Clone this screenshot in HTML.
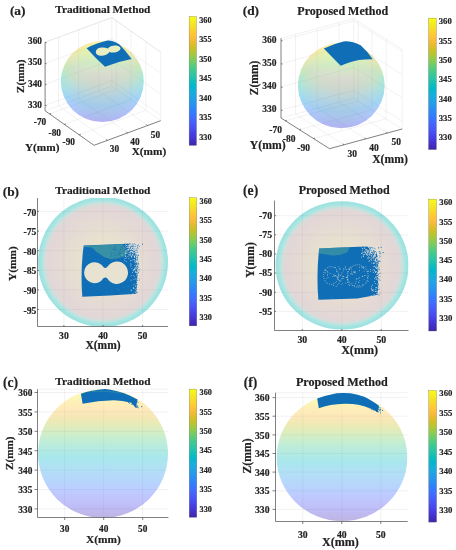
<!DOCTYPE html>
<html><head><meta charset="utf-8"><title>Figure</title>
<style>html,body{margin:0;padding:0;background:#fff}svg{display:block}text{font-family:"Liberation Serif",serif;font-weight:bold;fill:#222;stroke:#222;stroke-width:0.18px}</style>
</head><body>
<svg width="456" height="550" viewBox="0 0 456 550">
<defs><linearGradient id="cb" x1="0" y1="0" x2="0" y2="1"><stop offset="0.0000" stop-color="#f9fb15"/><stop offset="0.0417" stop-color="#f5eb23"/><stop offset="0.0833" stop-color="#f7db2b"/><stop offset="0.1250" stop-color="#feca33"/><stop offset="0.1667" stop-color="#fbbc3d"/><stop offset="0.2083" stop-color="#e5bb2d"/><stop offset="0.2500" stop-color="#c8c129"/><stop offset="0.2917" stop-color="#a6c83c"/><stop offset="0.3333" stop-color="#81cc59"/><stop offset="0.3750" stop-color="#5ccc76"/><stop offset="0.4167" stop-color="#3dc990"/><stop offset="0.4583" stop-color="#2cc4a6"/><stop offset="0.5000" stop-color="#12beb9"/><stop offset="0.5417" stop-color="#02b7cb"/><stop offset="0.5833" stop-color="#17aeda"/><stop offset="0.6250" stop-color="#21a3e3"/><stop offset="0.6667" stop-color="#2797eb"/><stop offset="0.7083" stop-color="#2d89f5"/><stop offset="0.7500" stop-color="#347afd"/><stop offset="0.7917" stop-color="#426afe"/><stop offset="0.8333" stop-color="#475bf9"/><stop offset="0.8750" stop-color="#484cef"/><stop offset="0.9167" stop-color="#463de0"/><stop offset="0.9583" stop-color="#4331c7"/><stop offset="1.0000" stop-color="#3e26a8"/></linearGradient><linearGradient id="sph" x1="0" y1="0" x2="0" y2="1"><stop offset="0.0000" stop-color="#f9fb15" stop-opacity="0.344"/><stop offset="0.0417" stop-color="#f5eb23" stop-opacity="0.344"/><stop offset="0.0833" stop-color="#f7db2b" stop-opacity="0.344"/><stop offset="0.1250" stop-color="#feca33" stop-opacity="0.344"/><stop offset="0.1667" stop-color="#fbbc3d" stop-opacity="0.344"/><stop offset="0.2083" stop-color="#e5bb2d" stop-opacity="0.344"/><stop offset="0.2500" stop-color="#c8c129" stop-opacity="0.344"/><stop offset="0.2917" stop-color="#a6c83c" stop-opacity="0.344"/><stop offset="0.3333" stop-color="#81cc59" stop-opacity="0.344"/><stop offset="0.3750" stop-color="#5ccc76" stop-opacity="0.344"/><stop offset="0.4167" stop-color="#3dc990" stop-opacity="0.344"/><stop offset="0.4583" stop-color="#2cc4a6" stop-opacity="0.344"/><stop offset="0.5000" stop-color="#12beb9" stop-opacity="0.344"/><stop offset="0.5417" stop-color="#02b7cb" stop-opacity="0.344"/><stop offset="0.5833" stop-color="#17aeda" stop-opacity="0.344"/><stop offset="0.6250" stop-color="#21a3e3" stop-opacity="0.344"/><stop offset="0.6667" stop-color="#2797eb" stop-opacity="0.344"/><stop offset="0.7083" stop-color="#2d89f5" stop-opacity="0.344"/><stop offset="0.7500" stop-color="#347afd" stop-opacity="0.344"/><stop offset="0.7917" stop-color="#426afe" stop-opacity="0.344"/><stop offset="0.8333" stop-color="#475bf9" stop-opacity="0.344"/><stop offset="0.8750" stop-color="#484cef" stop-opacity="0.344"/><stop offset="0.9167" stop-color="#463de0" stop-opacity="0.344"/><stop offset="0.9583" stop-color="#4331c7" stop-opacity="0.344"/><stop offset="1.0000" stop-color="#3e26a8" stop-opacity="0.344"/></linearGradient><linearGradient id="sph3" x1="0.42" y1="0" x2="0.58" y2="1"><stop offset="0.0000" stop-color="#fcf5b5"/><stop offset="0.0417" stop-color="#faf3b3"/><stop offset="0.0833" stop-color="#f2f5b3"/><stop offset="0.1250" stop-color="#e9f6ba"/><stop offset="0.1667" stop-color="#e1f4c1"/><stop offset="0.2083" stop-color="#ddf2c7"/><stop offset="0.2500" stop-color="#d9efcb"/><stop offset="0.2917" stop-color="#d7eccf"/><stop offset="0.3333" stop-color="#dbe9d3"/><stop offset="0.3750" stop-color="#dde5d6"/><stop offset="0.4167" stop-color="#dce1d7"/><stop offset="0.4583" stop-color="#d9e0d5"/><stop offset="0.5000" stop-color="#d5dfd6"/><stop offset="0.5417" stop-color="#d2ded9"/><stop offset="0.5833" stop-color="#ccddde"/><stop offset="0.6250" stop-color="#c5dbe2"/><stop offset="0.6667" stop-color="#bfd9e6"/><stop offset="0.7083" stop-color="#bbd7e9"/><stop offset="0.7500" stop-color="#b5d4ec"/><stop offset="0.7917" stop-color="#b3d1ed"/><stop offset="0.8333" stop-color="#b7ceee"/><stop offset="0.8750" stop-color="#b8cbef"/><stop offset="0.9167" stop-color="#bac6f1"/><stop offset="0.9583" stop-color="#bec1f2"/><stop offset="1.0000" stop-color="#bfbbf1"/></linearGradient><linearGradient id="linR" x1="0" y1="0" x2="0" y2="1"><stop offset="0.0000" stop-color="#ff0000"/><stop offset="0.0625" stop-color="#ef0000"/><stop offset="0.1250" stop-color="#df0000"/><stop offset="0.1875" stop-color="#cf0000"/><stop offset="0.2500" stop-color="#bf0000"/><stop offset="0.3125" stop-color="#af0000"/><stop offset="0.3750" stop-color="#9f0000"/><stop offset="0.4375" stop-color="#8f0000"/><stop offset="0.5000" stop-color="#800000"/><stop offset="0.5625" stop-color="#700000"/><stop offset="0.6250" stop-color="#600000"/><stop offset="0.6875" stop-color="#500000"/><stop offset="0.7500" stop-color="#400000"/><stop offset="0.8125" stop-color="#300000"/><stop offset="0.8750" stop-color="#200000"/><stop offset="0.9375" stop-color="#100000"/><stop offset="1.0000" stop-color="#000000"/></linearGradient><radialGradient id="radG" cx="0.5" cy="0.5" r="0.5"><stop offset="0.0000" stop-color="#00ff00"/><stop offset="0.0494" stop-color="#00ff00"/><stop offset="0.0975" stop-color="#00fe00"/><stop offset="0.1444" stop-color="#00fc00"/><stop offset="0.1900" stop-color="#00fa00"/><stop offset="0.2344" stop-color="#00f800"/><stop offset="0.2775" stop-color="#00f500"/><stop offset="0.3194" stop-color="#00f200"/><stop offset="0.3600" stop-color="#00ee00"/><stop offset="0.3994" stop-color="#00ea00"/><stop offset="0.4375" stop-color="#00e500"/><stop offset="0.4744" stop-color="#00e000"/><stop offset="0.5100" stop-color="#00db00"/><stop offset="0.5444" stop-color="#00d600"/><stop offset="0.5775" stop-color="#00d000"/><stop offset="0.6094" stop-color="#00ca00"/><stop offset="0.6400" stop-color="#00c400"/><stop offset="0.6694" stop-color="#00bd00"/><stop offset="0.6975" stop-color="#00b700"/><stop offset="0.7244" stop-color="#00b000"/><stop offset="0.7500" stop-color="#00a900"/><stop offset="0.7744" stop-color="#00a100"/><stop offset="0.7975" stop-color="#009a00"/><stop offset="0.8194" stop-color="#009200"/><stop offset="0.8400" stop-color="#008a00"/><stop offset="0.8594" stop-color="#008200"/><stop offset="0.8775" stop-color="#007a00"/><stop offset="0.8944" stop-color="#007200"/><stop offset="0.9100" stop-color="#006a00"/><stop offset="0.9244" stop-color="#006100"/><stop offset="0.9375" stop-color="#005900"/><stop offset="0.9494" stop-color="#005000"/><stop offset="0.9600" stop-color="#004700"/><stop offset="0.9694" stop-color="#003f00"/><stop offset="0.9775" stop-color="#003600"/><stop offset="0.9844" stop-color="#002d00"/><stop offset="0.9900" stop-color="#002400"/><stop offset="0.9944" stop-color="#001b00"/><stop offset="0.9975" stop-color="#001200"/><stop offset="0.9994" stop-color="#000900"/><stop offset="1.0000" stop-color="#000000"/></radialGradient><filter id="sphf" x="0" y="0" width="1" height="1" color-interpolation-filters="sRGB"><feColorMatrix in="SourceGraphic" type="matrix" values="0.8480 0.2650 0 0 0.0760 0.8480 0.2650 0 0 0.0760 0.8480 0.2650 0 0 0.0760 0 0 0 1 0" result="f"/><feComponentTransfer in="f" result="F"><feFuncR type="table" tableValues="0.242 0.258 0.270 0.278 0.281 0.280 0.271 0.248 0.202 0.180 0.171 0.149 0.130 0.102 0.047 0.005 0.070 0.155 0.204 0.265 0.359 0.466 0.579 0.687 0.785 0.872 0.946 0.996 0.994 0.978 0.961 0.963 0.977"/><feFuncG type="table" tableValues="0.150 0.181 0.214 0.254 0.298 0.341 0.385 0.431 0.479 0.523 0.564 0.603 0.639 0.673 0.702 0.726 0.746 0.762 0.780 0.794 0.802 0.801 0.792 0.777 0.757 0.739 0.729 0.747 0.792 0.841 0.891 0.938 0.984"/><feFuncB type="table" tableValues="0.660 0.750 0.834 0.896 0.939 0.970 0.989 0.998 0.991 0.971 0.941 0.913 0.892 0.867 0.826 0.778 0.726 0.671 0.611 0.541 0.463 0.376 0.291 0.214 0.162 0.163 0.216 0.234 0.201 0.175 0.153 0.126 0.081"/></feComponentTransfer><feColorMatrix in="SourceGraphic" type="matrix" values="0.8480 -0.2650 0 0 0.0760 0.8480 -0.2650 0 0 0.0760 0.8480 -0.2650 0 0 0.0760 0 0 0 1 0" result="b"/><feComponentTransfer in="b" result="B"><feFuncR type="table" tableValues="0.242 0.258 0.270 0.278 0.281 0.280 0.271 0.248 0.202 0.180 0.171 0.149 0.130 0.102 0.047 0.005 0.070 0.155 0.204 0.265 0.359 0.466 0.579 0.687 0.785 0.872 0.946 0.996 0.994 0.978 0.961 0.963 0.977"/><feFuncG type="table" tableValues="0.150 0.181 0.214 0.254 0.298 0.341 0.385 0.431 0.479 0.523 0.564 0.603 0.639 0.673 0.702 0.726 0.746 0.762 0.780 0.794 0.802 0.801 0.792 0.777 0.757 0.739 0.729 0.747 0.792 0.841 0.891 0.938 0.984"/><feFuncB type="table" tableValues="0.660 0.750 0.834 0.896 0.939 0.970 0.989 0.998 0.991 0.971 0.941 0.913 0.892 0.867 0.826 0.778 0.726 0.671 0.611 0.541 0.463 0.376 0.291 0.214 0.162 0.163 0.216 0.234 0.201 0.175 0.153 0.126 0.081"/></feComponentTransfer><feComposite in="F" in2="B" operator="arithmetic" k1="0" k2="0.2300" k3="0.1771" k4="0"/></filter><radialGradient id="top" cx="0.5" cy="0.5" r="0.5"><stop offset="0.000" stop-color="#c8bc82" stop-opacity="0.4"/><stop offset="0.300" stop-color="#c6b684" stop-opacity="0.4"/><stop offset="0.500" stop-color="#c0ac8c" stop-opacity="0.4"/><stop offset="0.700" stop-color="#bca096" stop-opacity="0.4"/><stop offset="0.850" stop-color="#b69b9b" stop-opacity="0.4"/><stop offset="0.870" stop-color="#b29e9e" stop-opacity="0.4"/><stop offset="0.895" stop-color="#91aca5" stop-opacity="0.4"/><stop offset="0.925" stop-color="#52bcb2" stop-opacity="0.4"/><stop offset="0.955" stop-color="#1ebcb6" stop-opacity="0.4"/><stop offset="1.000" stop-color="#00b6b2" stop-opacity="0.4"/></radialGradient><clipPath id="sca"><ellipse cx="102.3" cy="81.5" rx="41.5" ry="40.6"/></clipPath><clipPath id="scd"><ellipse cx="341.3" cy="85.5" rx="43.4" ry="42.7"/></clipPath><clipPath id="clipb"><rect x="37.5" y="198" width="130.5" height="128.5"/></clipPath><clipPath id="clipe"><rect x="274.5" y="200.5" width="134" height="130"/></clipPath><clipPath id="clipc"><rect x="37.5" y="389.2" width="130.9" height="128.3"/></clipPath><clipPath id="clipf"><rect x="275.5" y="392.7" width="132.2" height="128.8"/></clipPath></defs>
<rect width="456" height="550" fill="#fff"/>
<text x="9.9" y="14.7" font-size="13.4" text-anchor="start">(a)</text>
<text x="102.8" y="12.5" font-size="11.35" text-anchor="middle">Traditional Method</text>
<line x1="58.56" y1="105.84" x2="107.46" y2="140.34" stroke="#262626" stroke-width="0.5" stroke-opacity="0.12"/>
<line x1="58.56" y1="105.84" x2="58.56" y2="37.14" stroke="#262626" stroke-width="0.5" stroke-opacity="0.12"/>
<line x1="78.65" y1="98.43" x2="127.55" y2="132.93" stroke="#262626" stroke-width="0.5" stroke-opacity="0.12"/>
<line x1="78.65" y1="98.43" x2="78.65" y2="29.73" stroke="#262626" stroke-width="0.5" stroke-opacity="0.12"/>
<line x1="98.74" y1="91.02" x2="147.64" y2="125.52" stroke="#262626" stroke-width="0.5" stroke-opacity="0.12"/>
<line x1="98.74" y1="91.02" x2="98.74" y2="22.32" stroke="#262626" stroke-width="0.5" stroke-opacity="0.12"/>
<line x1="49.61" y1="113.98" x2="116.31" y2="89.38" stroke="#262626" stroke-width="0.5" stroke-opacity="0.12"/>
<line x1="116.31" y1="89.38" x2="116.31" y2="20.68" stroke="#262626" stroke-width="0.5" stroke-opacity="0.12"/>
<line x1="64.38" y1="124.4" x2="131.08" y2="99.8" stroke="#262626" stroke-width="0.5" stroke-opacity="0.12"/>
<line x1="131.08" y1="99.8" x2="131.08" y2="31.1" stroke="#262626" stroke-width="0.5" stroke-opacity="0.12"/>
<line x1="79.15" y1="134.82" x2="145.85" y2="110.22" stroke="#262626" stroke-width="0.5" stroke-opacity="0.12"/>
<line x1="145.85" y1="110.22" x2="145.85" y2="41.52" stroke="#262626" stroke-width="0.5" stroke-opacity="0.12"/>
<line x1="45.1" y1="105.34" x2="111.8" y2="80.74" stroke="#262626" stroke-width="0.5" stroke-opacity="0.12"/>
<line x1="111.8" y1="80.74" x2="160.7" y2="115.24" stroke="#262626" stroke-width="0.5" stroke-opacity="0.12"/>
<line x1="45.1" y1="84.33" x2="111.8" y2="59.73" stroke="#262626" stroke-width="0.5" stroke-opacity="0.12"/>
<line x1="111.8" y1="59.73" x2="160.7" y2="94.23" stroke="#262626" stroke-width="0.5" stroke-opacity="0.12"/>
<line x1="45.1" y1="63.32" x2="111.8" y2="38.72" stroke="#262626" stroke-width="0.5" stroke-opacity="0.12"/>
<line x1="111.8" y1="38.72" x2="160.7" y2="73.22" stroke="#262626" stroke-width="0.5" stroke-opacity="0.12"/>
<line x1="45.1" y1="42.31" x2="111.8" y2="17.71" stroke="#262626" stroke-width="0.5" stroke-opacity="0.12"/>
<line x1="111.8" y1="17.71" x2="160.7" y2="52.21" stroke="#262626" stroke-width="0.5" stroke-opacity="0.12"/>
<line x1="111.8" y1="86.2" x2="111.8" y2="17.5" stroke="#262626" stroke-width="0.5" stroke-opacity="0.12"/>
<line x1="45.1" y1="110.8" x2="111.8" y2="86.2" stroke="#262626" stroke-width="0.5" stroke-opacity="0.12"/>
<line x1="111.8" y1="86.2" x2="160.7" y2="120.7" stroke="#262626" stroke-width="0.5" stroke-opacity="0.12"/>
<line x1="45.1" y1="42.1" x2="111.8" y2="17.5" stroke="#262626" stroke-width="0.5" stroke-opacity="0.12"/>
<line x1="111.8" y1="17.5" x2="160.7" y2="52" stroke="#262626" stroke-width="0.5" stroke-opacity="0.12"/>
<line x1="160.7" y1="120.7" x2="160.7" y2="52" stroke="#262626" stroke-width="0.5" stroke-opacity="0.12"/>
<g clip-path="url(#sca)"><g filter="url(#sphf)"><ellipse cx="102.3" cy="81.5" rx="42.5" ry="41.6" fill="url(#linR)"/><ellipse cx="102.3" cy="81.5" rx="42.5" ry="41.6" fill="url(#radG)" style="mix-blend-mode:screen"/></g></g>
<path d="M86.6,48.2 Q96,43 107.6,40.5 Q113,40.2 119.5,44.5 Q126,51 131.6,59 Q118,61.5 105,66.8 Q95,57.5 86.6,48.2Z" fill="#0f6eb6"/>
<path d="M95.8,52 C96,47.5 103,46.5 108,48.6 C110,45 118,44.5 120.3,47.5 C122,51 114,53.8 109.5,52 C107,56.5 96,57.5 95.8,52Z" fill="#eaedc0"/>
<line x1="45.1" y1="110.8" x2="45.1" y2="42.1" stroke="#4a4a4a" stroke-width="0.7"/>
<line x1="45.1" y1="110.8" x2="94" y2="145.3" stroke="#4a4a4a" stroke-width="0.7"/>
<line x1="94" y1="145.3" x2="160.7" y2="120.7" stroke="#4a4a4a" stroke-width="0.7"/>
<line x1="45.1" y1="105.34" x2="46.6" y2="105.74" stroke="#4a4a4a" stroke-width="0.7"/>
<text x="42" y="107.51" font-size="9.3" text-anchor="end">330</text>
<line x1="45.1" y1="84.33" x2="46.6" y2="84.73" stroke="#4a4a4a" stroke-width="0.7"/>
<text x="42" y="86.5" font-size="9.3" text-anchor="end">340</text>
<line x1="45.1" y1="63.32" x2="46.6" y2="63.72" stroke="#4a4a4a" stroke-width="0.7"/>
<text x="42" y="65.49" font-size="9.3" text-anchor="end">350</text>
<line x1="45.1" y1="42.31" x2="46.6" y2="42.71" stroke="#4a4a4a" stroke-width="0.7"/>
<text x="42" y="44.48" font-size="9.3" text-anchor="end">360</text>
<line x1="49.61" y1="113.98" x2="51.11" y2="113.48" stroke="#4a4a4a" stroke-width="0.7"/>
<text x="40" y="125.27" font-size="9.3" text-anchor="middle">-70</text>
<line x1="64.38" y1="124.4" x2="65.88" y2="123.9" stroke="#4a4a4a" stroke-width="0.7"/>
<text x="54.8" y="135.57" font-size="9.3" text-anchor="middle">-80</text>
<line x1="79.15" y1="134.82" x2="80.65" y2="134.32" stroke="#4a4a4a" stroke-width="0.7"/>
<text x="68.8" y="145.47" font-size="9.3" text-anchor="middle">-90</text>
<line x1="107.46" y1="140.34" x2="106.26" y2="139.44" stroke="#4a4a4a" stroke-width="0.7"/>
<text x="114.5" y="152.37" font-size="9.3" text-anchor="middle">30</text>
<line x1="127.55" y1="132.93" x2="126.35" y2="132.03" stroke="#4a4a4a" stroke-width="0.7"/>
<text x="134.9" y="145.07" font-size="9.3" text-anchor="middle">40</text>
<line x1="147.64" y1="125.52" x2="146.44" y2="124.62" stroke="#4a4a4a" stroke-width="0.7"/>
<text x="155.4" y="137.57" font-size="9.3" text-anchor="middle">50</text>
<text x="24.2" y="76.2" font-size="11.2" text-anchor="middle" transform="rotate(-90 24.2 76.2)">Z(mm)</text>
<text x="42.2" y="151.2" font-size="11.3" text-anchor="middle">Y(mm)</text>
<text x="148.9" y="155.2" font-size="11.3" text-anchor="middle">X(mm)</text>
<rect x="189.1" y="16.5" width="7.4" height="128.9" fill="url(#cb)" stroke="#666" stroke-width="0.3"/>
<text x="199.2" y="22.71" font-size="8.2" text-anchor="start">360</text>
<text x="199.2" y="42.21" font-size="8.2" text-anchor="start">355</text>
<text x="199.2" y="61.71" font-size="8.2" text-anchor="start">350</text>
<text x="199.2" y="81.21" font-size="8.2" text-anchor="start">345</text>
<text x="199.2" y="100.71" font-size="8.2" text-anchor="start">340</text>
<text x="199.2" y="120.21" font-size="8.2" text-anchor="start">335</text>
<text x="199.2" y="139.71" font-size="8.2" text-anchor="start">330</text>
<text x="242.7" y="15" font-size="13.4" text-anchor="start">(d)</text>
<text x="342.7" y="14.5" font-size="12.0" text-anchor="middle">Proposed Method</text>
<line x1="295.54" y1="114.06" x2="344.04" y2="144.76" stroke="#262626" stroke-width="0.5" stroke-opacity="0.12"/>
<line x1="295.54" y1="114.06" x2="295.54" y2="34.26" stroke="#262626" stroke-width="0.5" stroke-opacity="0.12"/>
<line x1="317.24" y1="108.18" x2="365.74" y2="138.88" stroke="#262626" stroke-width="0.5" stroke-opacity="0.12"/>
<line x1="317.24" y1="108.18" x2="317.24" y2="28.38" stroke="#262626" stroke-width="0.5" stroke-opacity="0.12"/>
<line x1="338.94" y1="102.3" x2="387.44" y2="133" stroke="#262626" stroke-width="0.5" stroke-opacity="0.12"/>
<line x1="338.94" y1="102.3" x2="338.94" y2="22.5" stroke="#262626" stroke-width="0.5" stroke-opacity="0.12"/>
<line x1="285.36" y1="120.76" x2="358.06" y2="101.06" stroke="#262626" stroke-width="0.5" stroke-opacity="0.12"/>
<line x1="358.06" y1="101.06" x2="358.06" y2="21.26" stroke="#262626" stroke-width="0.5" stroke-opacity="0.12"/>
<line x1="299.42" y1="129.66" x2="372.12" y2="109.96" stroke="#262626" stroke-width="0.5" stroke-opacity="0.12"/>
<line x1="372.12" y1="109.96" x2="372.12" y2="30.16" stroke="#262626" stroke-width="0.5" stroke-opacity="0.12"/>
<line x1="313.47" y1="138.56" x2="386.17" y2="118.86" stroke="#262626" stroke-width="0.5" stroke-opacity="0.12"/>
<line x1="386.17" y1="118.86" x2="386.17" y2="39.06" stroke="#262626" stroke-width="0.5" stroke-opacity="0.12"/>
<line x1="281" y1="110.11" x2="353.7" y2="90.41" stroke="#262626" stroke-width="0.5" stroke-opacity="0.12"/>
<line x1="353.7" y1="90.41" x2="402.2" y2="121.11" stroke="#262626" stroke-width="0.5" stroke-opacity="0.12"/>
<line x1="281" y1="86.92" x2="353.7" y2="67.22" stroke="#262626" stroke-width="0.5" stroke-opacity="0.12"/>
<line x1="353.7" y1="67.22" x2="402.2" y2="97.92" stroke="#262626" stroke-width="0.5" stroke-opacity="0.12"/>
<line x1="281" y1="63.72" x2="353.7" y2="44.02" stroke="#262626" stroke-width="0.5" stroke-opacity="0.12"/>
<line x1="353.7" y1="44.02" x2="402.2" y2="74.72" stroke="#262626" stroke-width="0.5" stroke-opacity="0.12"/>
<line x1="281" y1="40.52" x2="353.7" y2="20.82" stroke="#262626" stroke-width="0.5" stroke-opacity="0.12"/>
<line x1="353.7" y1="20.82" x2="402.2" y2="51.52" stroke="#262626" stroke-width="0.5" stroke-opacity="0.12"/>
<line x1="353.7" y1="98.3" x2="353.7" y2="18.5" stroke="#262626" stroke-width="0.5" stroke-opacity="0.12"/>
<line x1="281" y1="118" x2="353.7" y2="98.3" stroke="#262626" stroke-width="0.5" stroke-opacity="0.12"/>
<line x1="353.7" y1="98.3" x2="402.2" y2="129" stroke="#262626" stroke-width="0.5" stroke-opacity="0.12"/>
<line x1="281" y1="38.2" x2="353.7" y2="18.5" stroke="#262626" stroke-width="0.5" stroke-opacity="0.12"/>
<line x1="353.7" y1="18.5" x2="402.2" y2="49.2" stroke="#262626" stroke-width="0.5" stroke-opacity="0.12"/>
<line x1="402.2" y1="129" x2="402.2" y2="49.2" stroke="#262626" stroke-width="0.5" stroke-opacity="0.12"/>
<g clip-path="url(#scd)"><g filter="url(#sphf)"><ellipse cx="341.3" cy="85.5" rx="44.4" ry="43.7" fill="url(#linR)"/><ellipse cx="341.3" cy="85.5" rx="44.4" ry="43.7" fill="url(#radG)" style="mix-blend-mode:screen"/></g></g>
<path d="M323.8,48.5 Q333,43.8 343.5,41.4 Q352,40.8 360.6,45.3 Q367.5,51.5 372.7,59.2 Q358,59 349.2,62.6 Q344,64.5 340.7,65.8 Q332,57 323.8,48.5Z" fill="#0f6eb6"/>
<line x1="281" y1="118" x2="281" y2="38.2" stroke="#4a4a4a" stroke-width="0.7"/>
<line x1="281" y1="118" x2="329.5" y2="148.7" stroke="#4a4a4a" stroke-width="0.7"/>
<line x1="329.5" y1="148.7" x2="402.2" y2="129" stroke="#4a4a4a" stroke-width="0.7"/>
<line x1="281" y1="110.11" x2="282.5" y2="110.51" stroke="#4a4a4a" stroke-width="0.7"/>
<text x="276.5" y="112.35" font-size="9.5" text-anchor="end">330</text>
<line x1="281" y1="86.92" x2="282.5" y2="87.32" stroke="#4a4a4a" stroke-width="0.7"/>
<text x="276.5" y="89.15" font-size="9.5" text-anchor="end">340</text>
<line x1="281" y1="63.72" x2="282.5" y2="64.12" stroke="#4a4a4a" stroke-width="0.7"/>
<text x="276.5" y="65.95" font-size="9.5" text-anchor="end">350</text>
<line x1="281" y1="40.52" x2="282.5" y2="40.92" stroke="#4a4a4a" stroke-width="0.7"/>
<text x="276.5" y="42.75" font-size="9.5" text-anchor="end">360</text>
<line x1="285.36" y1="120.76" x2="286.86" y2="120.26" stroke="#4a4a4a" stroke-width="0.7"/>
<text x="275.6" y="132.73" font-size="9.5" text-anchor="middle">-70</text>
<line x1="299.42" y1="129.66" x2="300.92" y2="129.16" stroke="#4a4a4a" stroke-width="0.7"/>
<text x="289.2" y="142.03" font-size="9.5" text-anchor="middle">-80</text>
<line x1="313.47" y1="138.56" x2="314.97" y2="138.06" stroke="#4a4a4a" stroke-width="0.7"/>
<text x="303.6" y="150.73" font-size="9.5" text-anchor="middle">-90</text>
<line x1="344.04" y1="144.76" x2="342.84" y2="143.86" stroke="#4a4a4a" stroke-width="0.7"/>
<text x="352.3" y="157.33" font-size="9.5" text-anchor="middle">30</text>
<line x1="365.74" y1="138.88" x2="364.54" y2="137.98" stroke="#4a4a4a" stroke-width="0.7"/>
<text x="374" y="151.13" font-size="9.5" text-anchor="middle">40</text>
<line x1="387.44" y1="133" x2="386.24" y2="132.1" stroke="#4a4a4a" stroke-width="0.7"/>
<text x="396.2" y="145.23" font-size="9.5" text-anchor="middle">50</text>
<text x="258" y="77.9" font-size="11.6" text-anchor="middle" transform="rotate(-90 258 77.9)">Z(mm)</text>
<text x="267.7" y="149.4" font-size="11.7" text-anchor="middle">Y(mm)</text>
<text x="390" y="162.5" font-size="11.7" text-anchor="middle">X(mm)</text>
<rect x="428.5" y="18.1" width="7.9" height="131.5" fill="url(#cb)" stroke="#666" stroke-width="0.3"/>
<text x="438.7" y="24.47" font-size="8.7" text-anchor="start">360</text>
<text x="438.7" y="43.77" font-size="8.7" text-anchor="start">355</text>
<text x="438.7" y="63.07" font-size="8.7" text-anchor="start">350</text>
<text x="438.7" y="82.37" font-size="8.7" text-anchor="start">345</text>
<text x="438.7" y="101.67" font-size="8.7" text-anchor="start">340</text>
<text x="438.7" y="120.97" font-size="8.7" text-anchor="start">335</text>
<text x="438.7" y="140.27" font-size="8.7" text-anchor="start">330</text>
<text x="2.7" y="196.3" font-size="13.4" text-anchor="start">(b)</text>
<text x="102.8" y="193.5" font-size="11.35" text-anchor="middle">Traditional Method</text>
<line x1="63.9" y1="198" x2="63.9" y2="326.5" stroke="#262626" stroke-width="0.5" stroke-opacity="0.12"/>
<line x1="103" y1="198" x2="103" y2="326.5" stroke="#262626" stroke-width="0.5" stroke-opacity="0.12"/>
<line x1="142.6" y1="198" x2="142.6" y2="326.5" stroke="#262626" stroke-width="0.5" stroke-opacity="0.12"/>
<line x1="37.5" y1="211.4" x2="168" y2="211.4" stroke="#262626" stroke-width="0.5" stroke-opacity="0.12"/>
<line x1="37.5" y1="231.1" x2="168" y2="231.1" stroke="#262626" stroke-width="0.5" stroke-opacity="0.12"/>
<line x1="37.5" y1="250.7" x2="168" y2="250.7" stroke="#262626" stroke-width="0.5" stroke-opacity="0.12"/>
<line x1="37.5" y1="270.3" x2="168" y2="270.3" stroke="#262626" stroke-width="0.5" stroke-opacity="0.12"/>
<line x1="37.5" y1="289.9" x2="168" y2="289.9" stroke="#262626" stroke-width="0.5" stroke-opacity="0.12"/>
<line x1="37.5" y1="309.5" x2="168" y2="309.5" stroke="#262626" stroke-width="0.5" stroke-opacity="0.12"/>
<g clip-path="url(#clipb)"><ellipse cx="103" cy="262" rx="65" ry="65" fill="url(#top)"/></g>
<path d="M83.7,245.5 L121,244.1 L136,243 L137.6,256 L137.3,275 L136.5,293.8 L110,295.6 L82.3,296.8 Q80.3,270 83.7,245.5Z" fill="#0f6eb6"/>
<path d="M84,245.6 L96.3,245.2 L122.6,244.2 L128.5,252.5 L123,257.2 L112.1,259.2 L104.5,257.2 L96.3,251.7 L92,247.6 L84,246.9Z" fill="#3f97a2" fill-opacity="0.85"/>
<path d="M114.0,252.1h0.8v0.8h-0.8zM120.3,253.1h0.8v0.8h-0.8zM110.2,255.9h0.8v0.8h-0.8zM114.0,257.9h0.8v0.8h-0.8zM124.2,251.2h0.8v0.8h-0.8zM112.6,253.3h0.8v0.8h-0.8zM118.9,254.6h0.8v0.8h-0.8zM111.1,254.9h0.8v0.8h-0.8zM115.1,245.4h0.8v0.8h-0.8zM118.0,254.3h0.8v0.8h-0.8zM122.1,257.0h0.8v0.8h-0.8zM123.6,250.8h0.8v0.8h-0.8zM124.9,246.3h0.8v0.8h-0.8zM113.7,257.6h0.8v0.8h-0.8zM120.7,248.9h0.8v0.8h-0.8zM116.6,249.6h0.8v0.8h-0.8zM119.9,256.8h0.8v0.8h-0.8zM125.8,256.1h0.8v0.8h-0.8zM121.4,247.1h0.8v0.8h-0.8zM126.4,256.8h0.8v0.8h-0.8zM122.1,247.7h0.8v0.8h-0.8zM119.8,248.7h0.8v0.8h-0.8zM124.5,257.9h0.8v0.8h-0.8zM123.6,250.3h0.8v0.8h-0.8zM115.0,255.0h0.8v0.8h-0.8zM110.8,253.0h0.8v0.8h-0.8zM122.2,249.3h0.8v0.8h-0.8zM126.7,251.6h0.8v0.8h-0.8zM115.3,246.0h0.8v0.8h-0.8zM110.5,247.6h0.8v0.8h-0.8zM120.4,247.0h0.8v0.8h-0.8zM124.8,249.1h0.8v0.8h-0.8zM125.2,249.9h0.8v0.8h-0.8zM118.8,253.4h0.8v0.8h-0.8zM119.5,253.1h0.8v0.8h-0.8zM118.6,250.6h0.8v0.8h-0.8zM114.0,248.9h0.8v0.8h-0.8zM118.9,252.1h0.8v0.8h-0.8zM117.1,252.5h0.8v0.8h-0.8zM120.5,253.2h0.8v0.8h-0.8zM120.7,251.1h0.8v0.8h-0.8zM116.0,254.2h0.8v0.8h-0.8zM110.4,245.8h0.8v0.8h-0.8zM126.4,248.3h0.8v0.8h-0.8zM120.1,249.2h0.8v0.8h-0.8zM115.3,249.8h0.8v0.8h-0.8zM115.1,249.9h0.8v0.8h-0.8zM110.5,252.4h0.8v0.8h-0.8zM115.3,247.9h0.8v0.8h-0.8zM114.1,247.4h0.8v0.8h-0.8zM121.9,246.3h0.8v0.8h-0.8zM115.7,255.8h0.8v0.8h-0.8zM124.5,247.2h0.8v0.8h-0.8zM121.1,256.5h0.8v0.8h-0.8zM113.8,246.6h0.8v0.8h-0.8zM113.2,255.5h0.8v0.8h-0.8zM113.1,248.6h0.8v0.8h-0.8zM120.9,255.5h0.8v0.8h-0.8zM112.2,248.8h0.8v0.8h-0.8zM114.6,249.5h0.8v0.8h-0.8z" fill="#0f6eb6" fill-opacity="0.8"/>
<path d="M106.2,266.1h0.7v0.7h-0.7zM92.3,246.2h0.7v0.7h-0.7zM130.6,294.4h0.7v0.7h-0.7zM134.4,291.4h0.7v0.7h-0.7zM123.5,287.0h0.7v0.7h-0.7zM111.5,260.2h0.7v0.7h-0.7zM96.1,249.3h0.7v0.7h-0.7zM99.2,285.7h0.7v0.7h-0.7zM131.9,280.0h0.7v0.7h-0.7zM131.5,290.1h0.7v0.7h-0.7zM84.7,282.5h0.7v0.7h-0.7zM99.9,278.5h0.7v0.7h-0.7zM105.9,292.0h0.7v0.7h-0.7zM102.1,258.4h0.7v0.7h-0.7zM109.3,284.3h0.7v0.7h-0.7zM94.5,272.2h0.7v0.7h-0.7zM93.1,284.8h0.7v0.7h-0.7zM126.7,286.4h0.7v0.7h-0.7zM117.3,288.3h0.7v0.7h-0.7zM98.4,259.2h0.7v0.7h-0.7zM106.4,269.2h0.7v0.7h-0.7zM84.1,248.7h0.7v0.7h-0.7zM90.6,249.4h0.7v0.7h-0.7zM129.3,250.2h0.7v0.7h-0.7zM100.7,261.4h0.7v0.7h-0.7zM118.3,274.7h0.7v0.7h-0.7zM94.1,262.1h0.7v0.7h-0.7zM113.4,281.1h0.7v0.7h-0.7zM88.2,254.7h0.7v0.7h-0.7zM116.0,284.3h0.7v0.7h-0.7zM126.5,276.5h0.7v0.7h-0.7zM103.7,270.3h0.7v0.7h-0.7zM106.3,280.0h0.7v0.7h-0.7zM97.0,272.3h0.7v0.7h-0.7zM87.8,266.8h0.7v0.7h-0.7zM130.6,291.9h0.7v0.7h-0.7zM131.6,284.8h0.7v0.7h-0.7zM108.6,252.0h0.7v0.7h-0.7zM119.1,289.5h0.7v0.7h-0.7zM119.4,282.0h0.7v0.7h-0.7zM89.5,274.8h0.7v0.7h-0.7zM91.6,283.9h0.7v0.7h-0.7zM88.9,250.9h0.7v0.7h-0.7zM93.5,247.2h0.7v0.7h-0.7zM90.4,287.4h0.7v0.7h-0.7zM128.3,292.7h0.7v0.7h-0.7zM126.3,247.8h0.7v0.7h-0.7zM111.1,281.0h0.7v0.7h-0.7zM123.7,291.8h0.7v0.7h-0.7zM101.2,273.6h0.7v0.7h-0.7zM96.8,254.8h0.7v0.7h-0.7zM116.6,282.9h0.7v0.7h-0.7zM103.5,265.4h0.7v0.7h-0.7zM106.2,250.1h0.7v0.7h-0.7zM135.6,266.2h0.7v0.7h-0.7zM92.5,279.9h0.7v0.7h-0.7zM119.7,271.3h0.7v0.7h-0.7zM118.1,290.0h0.7v0.7h-0.7zM89.1,282.7h0.7v0.7h-0.7zM111.4,267.7h0.7v0.7h-0.7zM93.9,259.1h0.7v0.7h-0.7zM115.0,261.4h0.7v0.7h-0.7zM120.6,292.7h0.7v0.7h-0.7zM121.4,266.2h0.7v0.7h-0.7zM115.0,259.1h0.7v0.7h-0.7zM85.2,269.5h0.7v0.7h-0.7zM93.1,263.7h0.7v0.7h-0.7zM125.0,253.0h0.7v0.7h-0.7zM109.4,275.4h0.7v0.7h-0.7zM128.2,286.3h0.7v0.7h-0.7z" fill="#3d9ab5" fill-opacity="0.8"/>
<path d="M128.6,247.0h0.8v0.8h-0.8zM135.8,247.2h0.8v0.8h-0.8zM136.0,248.6h0.8v0.8h-0.8zM133.5,244.2h0.8v0.8h-0.8zM135.4,248.2h0.8v0.8h-0.8zM130.7,255.7h0.8v0.8h-0.8zM136.4,260.2h0.8v0.8h-0.8zM128.5,248.6h0.8v0.8h-0.8zM134.2,249.4h0.8v0.8h-0.8zM125.0,244.4h0.8v0.8h-0.8zM134.4,256.7h0.8v0.8h-0.8zM131.1,256.7h0.8v0.8h-0.8zM129.7,251.5h0.8v0.8h-0.8zM137.7,259.9h0.8v0.8h-0.8zM134.7,254.7h0.8v0.8h-0.8zM126.7,247.1h0.8v0.8h-0.8zM136.1,256.0h0.8v0.8h-0.8zM134.0,250.3h0.8v0.8h-0.8zM134.5,245.3h0.8v0.8h-0.8zM127.5,245.8h0.8v0.8h-0.8zM127.5,256.2h0.8v0.8h-0.8zM127.5,250.2h0.8v0.8h-0.8zM137.9,246.8h0.8v0.8h-0.8zM126.4,244.9h0.8v0.8h-0.8zM131.6,249.2h0.8v0.8h-0.8zM123.2,243.2h0.8v0.8h-0.8zM137.0,260.8h0.8v0.8h-0.8zM128.9,247.8h0.8v0.8h-0.8zM133.1,242.9h0.8v0.8h-0.8zM134.0,255.7h0.8v0.8h-0.8zM137.7,244.5h0.8v0.8h-0.8zM131.9,253.9h0.8v0.8h-0.8zM135.3,244.7h0.8v0.8h-0.8zM131.2,251.2h0.8v0.8h-0.8zM133.5,244.0h0.8v0.8h-0.8zM131.2,246.7h0.8v0.8h-0.8zM138.4,249.0h0.8v0.8h-0.8zM133.8,248.1h0.8v0.8h-0.8zM125.5,250.5h0.8v0.8h-0.8zM129.9,245.7h0.8v0.8h-0.8zM128.0,249.1h0.8v0.8h-0.8zM130.1,244.3h0.8v0.8h-0.8zM135.0,247.3h0.8v0.8h-0.8zM135.4,253.3h0.8v0.8h-0.8zM138.4,253.2h0.8v0.8h-0.8zM125.0,253.1h0.8v0.8h-0.8zM132.5,255.1h0.8v0.8h-0.8zM138.3,248.0h0.8v0.8h-0.8zM136.9,244.0h0.8v0.8h-0.8zM135.4,246.4h0.8v0.8h-0.8zM124.9,246.4h0.8v0.8h-0.8zM130.0,251.1h0.8v0.8h-0.8zM138.1,247.8h0.8v0.8h-0.8zM128.2,254.5h0.8v0.8h-0.8zM138.2,249.6h0.8v0.8h-0.8zM130.8,245.4h0.8v0.8h-0.8zM131.1,244.2h0.8v0.8h-0.8zM132.2,251.0h0.8v0.8h-0.8zM138.1,256.0h0.8v0.8h-0.8zM136.4,246.4h0.8v0.8h-0.8zM135.9,253.0h0.8v0.8h-0.8zM135.9,256.9h0.8v0.8h-0.8zM136.9,250.2h0.8v0.8h-0.8zM132.8,249.1h0.8v0.8h-0.8zM132.4,254.4h0.8v0.8h-0.8zM136.6,255.9h0.8v0.8h-0.8zM138.4,251.9h0.8v0.8h-0.8zM133.8,248.2h0.8v0.8h-0.8zM133.4,245.9h0.8v0.8h-0.8zM136.1,252.6h0.8v0.8h-0.8zM137.8,246.1h0.8v0.8h-0.8zM129.4,246.4h0.8v0.8h-0.8zM136.7,244.4h0.8v0.8h-0.8zM133.9,246.9h0.8v0.8h-0.8zM136.4,245.2h0.8v0.8h-0.8zM124.9,256.2h0.8v0.8h-0.8zM138.0,244.5h0.8v0.8h-0.8zM132.3,248.9h0.8v0.8h-0.8zM131.1,248.2h0.8v0.8h-0.8zM131.5,251.1h0.8v0.8h-0.8zM138.5,245.8h0.8v0.8h-0.8zM138.5,244.9h0.8v0.8h-0.8zM136.8,243.4h0.8v0.8h-0.8zM137.8,246.2h0.8v0.8h-0.8zM129.4,254.8h0.8v0.8h-0.8zM131.1,243.1h0.8v0.8h-0.8zM133.7,247.5h0.8v0.8h-0.8zM136.3,253.5h0.8v0.8h-0.8zM137.2,247.5h0.8v0.8h-0.8zM137.6,248.7h0.8v0.8h-0.8zM138.1,248.0h0.8v0.8h-0.8zM136.4,247.3h0.8v0.8h-0.8zM136.9,253.4h0.8v0.8h-0.8zM131.0,247.4h0.8v0.8h-0.8zM134.2,251.9h0.8v0.8h-0.8zM134.7,247.6h0.8v0.8h-0.8zM136.2,261.6h0.8v0.8h-0.8zM125.2,255.4h0.8v0.8h-0.8zM134.2,256.1h0.8v0.8h-0.8zM132.9,248.7h0.8v0.8h-0.8zM128.0,246.7h0.8v0.8h-0.8zM130.4,253.7h0.8v0.8h-0.8zM138.5,245.3h0.8v0.8h-0.8zM132.7,259.0h0.8v0.8h-0.8zM124.2,259.7h0.8v0.8h-0.8zM132.0,252.0h0.8v0.8h-0.8zM135.3,249.5h0.8v0.8h-0.8zM138.2,244.7h0.8v0.8h-0.8zM135.8,243.1h0.8v0.8h-0.8zM134.1,257.3h0.8v0.8h-0.8zM135.2,242.7h0.8v0.8h-0.8zM136.4,254.7h0.8v0.8h-0.8zM138.0,242.5h0.8v0.8h-0.8zM127.7,246.8h0.8v0.8h-0.8zM135.4,246.3h0.8v0.8h-0.8zM129.3,245.5h0.8v0.8h-0.8zM135.2,249.4h0.8v0.8h-0.8zM127.9,243.0h0.8v0.8h-0.8zM137.7,247.7h0.8v0.8h-0.8zM133.2,250.0h0.8v0.8h-0.8zM133.8,259.7h0.8v0.8h-0.8zM137.9,254.4h0.8v0.8h-0.8zM128.6,244.4h0.8v0.8h-0.8zM134.6,243.9h0.8v0.8h-0.8zM137.2,257.8h0.8v0.8h-0.8zM136.6,245.2h0.8v0.8h-0.8zM126.9,249.0h0.8v0.8h-0.8zM136.2,251.1h0.8v0.8h-0.8zM135.4,253.7h0.8v0.8h-0.8zM138.1,245.5h0.8v0.8h-0.8zM135.9,256.3h0.8v0.8h-0.8zM130.5,248.5h0.8v0.8h-0.8zM136.9,249.7h0.8v0.8h-0.8zM128.2,245.0h0.8v0.8h-0.8zM136.6,244.1h0.8v0.8h-0.8zM135.8,253.7h0.8v0.8h-0.8zM138.4,244.6h0.8v0.8h-0.8zM134.2,247.2h0.8v0.8h-0.8zM131.3,255.9h0.8v0.8h-0.8zM135.6,251.5h0.8v0.8h-0.8zM132.1,245.5h0.8v0.8h-0.8zM129.3,246.1h0.8v0.8h-0.8zM135.2,249.3h0.8v0.8h-0.8zM129.3,254.2h0.8v0.8h-0.8zM137.4,245.1h0.8v0.8h-0.8zM136.2,250.9h0.8v0.8h-0.8zM125.4,251.6h0.8v0.8h-0.8zM125.9,257.5h0.8v0.8h-0.8zM137.4,247.1h0.8v0.8h-0.8zM137.2,261.3h0.8v0.8h-0.8zM129.4,251.7h0.8v0.8h-0.8zM133.9,245.1h0.8v0.8h-0.8zM136.9,250.9h0.8v0.8h-0.8zM130.9,247.9h0.8v0.8h-0.8zM133.4,251.4h0.8v0.8h-0.8zM137.4,252.8h0.8v0.8h-0.8zM132.0,249.3h0.8v0.8h-0.8zM133.9,243.3h0.8v0.8h-0.8zM137.6,253.7h0.8v0.8h-0.8zM135.0,243.3h0.8v0.8h-0.8zM130.1,244.6h0.8v0.8h-0.8zM137.3,249.1h0.8v0.8h-0.8zM128.7,252.4h0.8v0.8h-0.8zM133.0,243.5h0.8v0.8h-0.8zM137.9,246.8h0.8v0.8h-0.8zM137.6,244.1h0.8v0.8h-0.8zM130.5,248.6h0.8v0.8h-0.8zM135.6,249.3h0.8v0.8h-0.8zM131.6,245.1h0.8v0.8h-0.8zM138.0,245.5h0.8v0.8h-0.8zM134.2,259.3h0.8v0.8h-0.8zM138.2,246.8h0.8v0.8h-0.8zM134.3,249.4h0.8v0.8h-0.8zM131.0,244.0h0.8v0.8h-0.8zM133.4,247.5h0.8v0.8h-0.8zM129.0,247.5h0.8v0.8h-0.8zM137.6,246.8h0.8v0.8h-0.8zM134.4,245.1h0.8v0.8h-0.8zM134.9,242.6h0.8v0.8h-0.8zM131.3,250.5h0.8v0.8h-0.8zM133.1,249.9h0.8v0.8h-0.8zM133.2,244.8h0.8v0.8h-0.8zM133.9,256.3h0.8v0.8h-0.8zM133.9,245.9h0.8v0.8h-0.8zM136.8,247.5h0.8v0.8h-0.8zM136.4,252.6h0.8v0.8h-0.8zM132.9,252.9h0.8v0.8h-0.8zM130.5,255.3h0.8v0.8h-0.8zM133.1,247.8h0.8v0.8h-0.8zM133.4,245.4h0.8v0.8h-0.8zM137.5,249.6h0.8v0.8h-0.8zM132.2,242.6h0.8v0.8h-0.8zM131.1,243.5h0.8v0.8h-0.8zM129.9,249.1h0.8v0.8h-0.8zM126.7,242.6h0.8v0.8h-0.8zM136.1,259.4h0.8v0.8h-0.8zM138.0,253.4h0.8v0.8h-0.8zM134.0,249.4h0.8v0.8h-0.8zM135.6,251.0h0.8v0.8h-0.8zM135.8,250.8h0.8v0.8h-0.8zM135.8,245.9h0.8v0.8h-0.8zM134.7,249.0h0.8v0.8h-0.8zM137.2,244.4h0.8v0.8h-0.8zM135.4,249.3h0.8v0.8h-0.8zM130.0,259.9h0.8v0.8h-0.8zM136.8,242.7h0.8v0.8h-0.8zM124.6,258.2h0.8v0.8h-0.8zM129.6,243.6h0.8v0.8h-0.8zM137.3,246.1h0.8v0.8h-0.8zM132.0,247.0h0.8v0.8h-0.8zM135.5,245.4h0.8v0.8h-0.8zM132.9,247.8h0.8v0.8h-0.8zM132.9,252.0h0.8v0.8h-0.8zM126.1,245.3h0.8v0.8h-0.8zM131.3,247.8h0.8v0.8h-0.8zM125.7,261.0h0.8v0.8h-0.8zM129.4,246.9h0.8v0.8h-0.8zM129.8,244.4h0.8v0.8h-0.8zM128.4,258.0h0.8v0.8h-0.8zM128.8,245.1h0.8v0.8h-0.8zM136.7,251.0h0.8v0.8h-0.8zM132.0,244.3h0.8v0.8h-0.8zM130.1,244.9h0.8v0.8h-0.8zM135.9,258.2h0.8v0.8h-0.8zM126.6,252.7h0.8v0.8h-0.8zM136.1,258.1h0.8v0.8h-0.8zM132.7,246.9h0.8v0.8h-0.8zM138.2,253.8h0.8v0.8h-0.8zM121.7,242.8h0.8v0.8h-0.8zM135.9,248.4h0.8v0.8h-0.8zM131.4,243.0h0.8v0.8h-0.8zM136.8,254.8h0.8v0.8h-0.8zM135.1,248.2h0.8v0.8h-0.8zM134.7,244.2h0.8v0.8h-0.8zM138.4,251.7h0.8v0.8h-0.8zM127.7,250.0h0.8v0.8h-0.8zM135.7,254.8h0.8v0.8h-0.8zM138.1,256.4h0.8v0.8h-0.8zM135.0,250.8h0.8v0.8h-0.8zM136.3,246.9h0.8v0.8h-0.8zM135.5,252.8h0.8v0.8h-0.8zM138.3,243.7h0.8v0.8h-0.8zM130.5,242.7h0.8v0.8h-0.8zM136.6,250.2h0.8v0.8h-0.8zM121.5,254.8h0.8v0.8h-0.8zM136.9,253.1h0.8v0.8h-0.8zM132.8,252.0h0.8v0.8h-0.8zM134.9,251.8h0.8v0.8h-0.8zM134.5,249.3h0.8v0.8h-0.8zM130.4,252.6h0.8v0.8h-0.8z" fill="#e6e1d8"/>
<path d="M135.6,278.8h0.75v0.75h-0.75zM138.0,276.5h0.75v0.75h-0.75zM138.0,267.8h0.75v0.75h-0.75zM136.1,267.5h0.75v0.75h-0.75zM135.6,268.0h0.75v0.75h-0.75zM134.3,269.5h0.75v0.75h-0.75zM134.5,267.9h0.75v0.75h-0.75zM133.6,284.2h0.75v0.75h-0.75zM138.1,280.9h0.75v0.75h-0.75zM136.4,273.7h0.75v0.75h-0.75zM137.9,273.0h0.75v0.75h-0.75zM134.5,267.7h0.75v0.75h-0.75zM133.6,294.5h0.75v0.75h-0.75zM137.1,269.0h0.75v0.75h-0.75zM137.8,285.3h0.75v0.75h-0.75zM138.0,289.3h0.75v0.75h-0.75zM138.0,292.9h0.75v0.75h-0.75zM138.5,260.9h0.75v0.75h-0.75zM137.1,263.3h0.75v0.75h-0.75zM133.0,287.0h0.75v0.75h-0.75zM135.0,260.4h0.75v0.75h-0.75zM137.2,275.0h0.75v0.75h-0.75zM138.4,288.1h0.75v0.75h-0.75zM137.7,264.8h0.75v0.75h-0.75zM136.6,293.0h0.75v0.75h-0.75zM137.5,273.4h0.75v0.75h-0.75zM135.6,278.3h0.75v0.75h-0.75zM137.9,262.1h0.75v0.75h-0.75zM137.1,285.6h0.75v0.75h-0.75zM130.6,289.8h0.75v0.75h-0.75zM135.6,263.8h0.75v0.75h-0.75zM136.9,267.5h0.75v0.75h-0.75zM136.9,272.8h0.75v0.75h-0.75zM138.3,265.2h0.75v0.75h-0.75zM137.7,269.1h0.75v0.75h-0.75zM135.2,271.0h0.75v0.75h-0.75zM136.1,265.1h0.75v0.75h-0.75zM138.4,271.1h0.75v0.75h-0.75zM136.4,274.8h0.75v0.75h-0.75zM133.3,275.0h0.75v0.75h-0.75zM134.3,269.0h0.75v0.75h-0.75zM132.7,269.8h0.75v0.75h-0.75zM137.8,293.2h0.75v0.75h-0.75zM137.7,279.9h0.75v0.75h-0.75zM130.5,265.8h0.75v0.75h-0.75zM138.1,262.5h0.75v0.75h-0.75zM137.7,273.4h0.75v0.75h-0.75zM131.4,260.5h0.75v0.75h-0.75zM137.7,261.7h0.75v0.75h-0.75zM136.5,267.5h0.75v0.75h-0.75zM138.3,278.6h0.75v0.75h-0.75zM138.5,284.5h0.75v0.75h-0.75zM136.1,265.9h0.75v0.75h-0.75zM135.8,265.8h0.75v0.75h-0.75zM138.4,271.6h0.75v0.75h-0.75zM135.0,272.2h0.75v0.75h-0.75zM138.1,270.6h0.75v0.75h-0.75zM135.6,291.2h0.75v0.75h-0.75zM130.8,264.5h0.75v0.75h-0.75zM135.4,285.9h0.75v0.75h-0.75zM135.1,292.1h0.75v0.75h-0.75zM138.2,281.9h0.75v0.75h-0.75zM135.2,270.7h0.75v0.75h-0.75zM136.6,288.2h0.75v0.75h-0.75zM136.5,290.3h0.75v0.75h-0.75zM136.2,261.2h0.75v0.75h-0.75zM135.1,262.1h0.75v0.75h-0.75zM133.6,288.2h0.75v0.75h-0.75zM133.2,270.4h0.75v0.75h-0.75zM138.5,284.6h0.75v0.75h-0.75zM137.1,286.4h0.75v0.75h-0.75zM131.0,290.3h0.75v0.75h-0.75zM136.7,262.1h0.75v0.75h-0.75zM134.1,261.6h0.75v0.75h-0.75zM137.8,271.2h0.75v0.75h-0.75zM135.9,282.9h0.75v0.75h-0.75zM133.7,269.0h0.75v0.75h-0.75zM130.7,279.8h0.75v0.75h-0.75zM135.7,271.4h0.75v0.75h-0.75zM134.4,276.4h0.75v0.75h-0.75zM135.5,268.7h0.75v0.75h-0.75zM137.9,264.9h0.75v0.75h-0.75zM138.1,279.1h0.75v0.75h-0.75zM130.3,263.4h0.75v0.75h-0.75zM136.0,272.2h0.75v0.75h-0.75zM138.0,270.3h0.75v0.75h-0.75zM137.0,271.5h0.75v0.75h-0.75zM130.9,275.6h0.75v0.75h-0.75zM137.1,278.2h0.75v0.75h-0.75zM138.0,274.1h0.75v0.75h-0.75zM134.4,265.3h0.75v0.75h-0.75zM137.1,282.5h0.75v0.75h-0.75zM134.9,289.1h0.75v0.75h-0.75zM136.1,280.8h0.75v0.75h-0.75zM131.5,267.9h0.75v0.75h-0.75zM137.4,272.2h0.75v0.75h-0.75zM136.8,264.9h0.75v0.75h-0.75zM137.5,267.0h0.75v0.75h-0.75zM137.6,287.9h0.75v0.75h-0.75zM137.1,293.0h0.75v0.75h-0.75zM133.2,288.1h0.75v0.75h-0.75zM136.8,270.7h0.75v0.75h-0.75zM137.2,260.2h0.75v0.75h-0.75zM132.6,293.3h0.75v0.75h-0.75zM132.0,271.9h0.75v0.75h-0.75zM135.9,261.0h0.75v0.75h-0.75zM137.3,273.3h0.75v0.75h-0.75zM133.6,278.9h0.75v0.75h-0.75zM135.2,285.4h0.75v0.75h-0.75zM134.9,267.3h0.75v0.75h-0.75z" fill="#e6e1d8"/>
<path d="M137.3,270.9h0.7v0.7h-0.7zM137.1,292.2h0.7v0.7h-0.7zM137.2,246.6h0.7v0.7h-0.7zM138.8,279.7h0.7v0.7h-0.7zM138.9,278.4h0.7v0.7h-0.7zM137.7,263.2h0.7v0.7h-0.7zM136.9,275.0h0.7v0.7h-0.7zM137.2,274.8h0.7v0.7h-0.7zM138.2,266.9h0.7v0.7h-0.7zM137.7,245.2h0.7v0.7h-0.7zM138.2,247.8h0.7v0.7h-0.7zM137.7,260.6h0.7v0.7h-0.7zM138.6,270.5h0.7v0.7h-0.7zM137.7,272.5h0.7v0.7h-0.7zM138.3,263.8h0.7v0.7h-0.7zM136.8,266.2h0.7v0.7h-0.7zM137.0,251.9h0.7v0.7h-0.7zM138.8,269.1h0.7v0.7h-0.7zM137.7,266.4h0.7v0.7h-0.7zM138.5,268.9h0.7v0.7h-0.7zM138.1,255.4h0.7v0.7h-0.7zM136.8,251.5h0.7v0.7h-0.7zM136.9,249.8h0.7v0.7h-0.7zM136.9,267.9h0.7v0.7h-0.7zM137.3,247.6h0.7v0.7h-0.7zM137.2,280.0h0.7v0.7h-0.7zM137.0,266.8h0.7v0.7h-0.7zM139.0,246.3h0.7v0.7h-0.7zM137.5,268.6h0.7v0.7h-0.7zM138.2,262.7h0.7v0.7h-0.7zM138.0,254.8h0.7v0.7h-0.7zM137.0,284.4h0.7v0.7h-0.7zM136.9,273.1h0.7v0.7h-0.7zM136.7,277.7h0.7v0.7h-0.7zM137.6,265.2h0.7v0.7h-0.7zM137.4,257.5h0.7v0.7h-0.7zM136.7,273.1h0.7v0.7h-0.7zM137.4,245.2h0.7v0.7h-0.7zM138.0,244.6h0.7v0.7h-0.7zM138.0,272.1h0.7v0.7h-0.7z" fill="#0f6eb6"/>
<path d="M84.1,272.7 a10.5,10.5 0 0 1 19.5,-5.4 q1.7,1.2 3.4,0 a11.2,11.2 0 1 1 0,10.8 q-1.7,-1.2 -3.4,0 a10.5,10.5 0 0 1 -19.5,-5.4Z" fill="#e7e3d0"/>
<rect x="142" y="243.6" width="1" height="1" fill="#0f6eb6"/>
<line x1="37.5" y1="198" x2="37.5" y2="326.5" stroke="#4a4a4a" stroke-width="0.7"/>
<line x1="37.5" y1="326.5" x2="168" y2="326.5" stroke="#4a4a4a" stroke-width="0.7"/>
<line x1="63.9" y1="326.5" x2="63.9" y2="325" stroke="#4a4a4a" stroke-width="0.7"/>
<text x="63.9" y="339" font-size="9.7" text-anchor="middle">30</text>
<line x1="103" y1="326.5" x2="103" y2="325" stroke="#4a4a4a" stroke-width="0.7"/>
<text x="103" y="339" font-size="9.7" text-anchor="middle">40</text>
<line x1="142.6" y1="326.5" x2="142.6" y2="325" stroke="#4a4a4a" stroke-width="0.7"/>
<text x="142.6" y="339" font-size="9.7" text-anchor="middle">50</text>
<line x1="37.5" y1="211.4" x2="39" y2="211.4" stroke="#4a4a4a" stroke-width="0.7"/>
<text x="36.4" y="215.5" font-size="9.7" text-anchor="end">-70</text>
<line x1="37.5" y1="231.1" x2="39" y2="231.1" stroke="#4a4a4a" stroke-width="0.7"/>
<text x="36.4" y="235.2" font-size="9.7" text-anchor="end">-75</text>
<line x1="37.5" y1="250.7" x2="39" y2="250.7" stroke="#4a4a4a" stroke-width="0.7"/>
<text x="36.4" y="254.8" font-size="9.7" text-anchor="end">-80</text>
<line x1="37.5" y1="270.3" x2="39" y2="270.3" stroke="#4a4a4a" stroke-width="0.7"/>
<text x="36.4" y="274.4" font-size="9.7" text-anchor="end">-85</text>
<line x1="37.5" y1="289.9" x2="39" y2="289.9" stroke="#4a4a4a" stroke-width="0.7"/>
<text x="36.4" y="294" font-size="9.7" text-anchor="end">-90</text>
<line x1="37.5" y1="309.5" x2="39" y2="309.5" stroke="#4a4a4a" stroke-width="0.7"/>
<text x="36.4" y="313.6" font-size="9.7" text-anchor="end">-95</text>
<text x="103" y="349.3" font-size="11.5" text-anchor="middle">X(mm)</text>
<text x="16" y="263.6" font-size="11.4" text-anchor="middle" transform="rotate(-90 16 263.6)">Y(mm)</text>
<rect x="189.2" y="197.7" width="7.6" height="128.2" fill="url(#cb)" stroke="#666" stroke-width="0.3"/>
<text x="199.6" y="204.01" font-size="8.2" text-anchor="start">360</text>
<text x="199.6" y="223.37" font-size="8.2" text-anchor="start">355</text>
<text x="199.6" y="242.74" font-size="8.2" text-anchor="start">350</text>
<text x="199.6" y="262.11" font-size="8.2" text-anchor="start">345</text>
<text x="199.6" y="281.47" font-size="8.2" text-anchor="start">340</text>
<text x="199.6" y="300.84" font-size="8.2" text-anchor="start">335</text>
<text x="199.6" y="320.21" font-size="8.2" text-anchor="start">330</text>
<text x="243.1" y="195.3" font-size="13.6" text-anchor="start">(e)</text>
<text x="344.2" y="193.5" font-size="12.05" text-anchor="middle">Proposed Method</text>
<line x1="302.3" y1="200.5" x2="302.3" y2="330.5" stroke="#262626" stroke-width="0.5" stroke-opacity="0.12"/>
<line x1="341.8" y1="200.5" x2="341.8" y2="330.5" stroke="#262626" stroke-width="0.5" stroke-opacity="0.12"/>
<line x1="381.3" y1="200.5" x2="381.3" y2="330.5" stroke="#262626" stroke-width="0.5" stroke-opacity="0.12"/>
<line x1="274.5" y1="215.7" x2="408.5" y2="215.7" stroke="#262626" stroke-width="0.5" stroke-opacity="0.12"/>
<line x1="274.5" y1="234.8" x2="408.5" y2="234.8" stroke="#262626" stroke-width="0.5" stroke-opacity="0.12"/>
<line x1="274.5" y1="254" x2="408.5" y2="254" stroke="#262626" stroke-width="0.5" stroke-opacity="0.12"/>
<line x1="274.5" y1="273.1" x2="408.5" y2="273.1" stroke="#262626" stroke-width="0.5" stroke-opacity="0.12"/>
<line x1="274.5" y1="292.3" x2="408.5" y2="292.3" stroke="#262626" stroke-width="0.5" stroke-opacity="0.12"/>
<line x1="274.5" y1="311.4" x2="408.5" y2="311.4" stroke="#262626" stroke-width="0.5" stroke-opacity="0.12"/>
<g clip-path="url(#clipe)"><ellipse cx="342" cy="265.4" rx="66.5" ry="64.2" fill="url(#top)"/></g>
<path d="M319.2,248.4 L364.2,246.4 L375,247.2 L378.2,258.7 L378.2,280 L377.8,294.8 L357.3,298.5 L318.4,299.7 Q316.2,274 319.2,248.4Z" fill="#0f6eb6"/>
<path d="M319.3,248.5 L350,247 L347,252.5 Q338,256.5 329,255 L319,253.5Z" fill="#3f97a2" fill-opacity="0.75"/>
<path d="M343.9,265.0h0.7v0.7h-0.7zM370.1,278.0h0.7v0.7h-0.7zM343.4,296.9h0.7v0.7h-0.7zM371.5,257.0h0.7v0.7h-0.7zM358.5,283.1h0.7v0.7h-0.7zM332.4,254.8h0.7v0.7h-0.7zM332.1,296.5h0.7v0.7h-0.7zM347.4,288.6h0.7v0.7h-0.7zM372.9,276.0h0.7v0.7h-0.7zM377.5,262.0h0.7v0.7h-0.7zM365.0,281.0h0.7v0.7h-0.7zM332.0,294.2h0.7v0.7h-0.7zM356.9,249.8h0.7v0.7h-0.7zM341.0,255.7h0.7v0.7h-0.7zM374.9,264.5h0.7v0.7h-0.7zM372.2,283.9h0.7v0.7h-0.7zM338.7,275.9h0.7v0.7h-0.7zM361.8,280.6h0.7v0.7h-0.7zM370.6,288.3h0.7v0.7h-0.7zM327.6,271.2h0.7v0.7h-0.7zM335.0,264.7h0.7v0.7h-0.7zM362.7,289.8h0.7v0.7h-0.7zM362.2,260.3h0.7v0.7h-0.7zM359.7,260.6h0.7v0.7h-0.7zM338.2,265.7h0.7v0.7h-0.7zM320.6,296.5h0.7v0.7h-0.7zM321.4,265.5h0.7v0.7h-0.7zM333.9,273.6h0.7v0.7h-0.7zM330.2,297.9h0.7v0.7h-0.7zM325.3,262.1h0.7v0.7h-0.7zM370.8,256.6h0.7v0.7h-0.7zM355.6,265.7h0.7v0.7h-0.7zM346.7,258.0h0.7v0.7h-0.7zM348.9,260.7h0.7v0.7h-0.7zM348.1,297.7h0.7v0.7h-0.7zM352.5,263.8h0.7v0.7h-0.7zM334.7,290.5h0.7v0.7h-0.7zM368.3,269.1h0.7v0.7h-0.7zM336.4,287.8h0.7v0.7h-0.7zM329.2,253.2h0.7v0.7h-0.7zM352.7,287.5h0.7v0.7h-0.7zM366.4,254.1h0.7v0.7h-0.7zM340.8,291.7h0.7v0.7h-0.7zM331.9,255.8h0.7v0.7h-0.7zM370.6,250.1h0.7v0.7h-0.7zM325.6,270.1h0.7v0.7h-0.7zM341.8,257.3h0.7v0.7h-0.7zM376.2,256.4h0.7v0.7h-0.7zM361.8,266.0h0.7v0.7h-0.7zM341.0,262.5h0.7v0.7h-0.7zM326.9,277.9h0.7v0.7h-0.7zM330.1,295.9h0.7v0.7h-0.7zM356.0,284.3h0.7v0.7h-0.7zM353.2,271.5h0.7v0.7h-0.7zM362.6,252.1h0.7v0.7h-0.7zM368.5,271.2h0.7v0.7h-0.7zM359.7,287.4h0.7v0.7h-0.7zM354.5,288.9h0.7v0.7h-0.7zM331.4,297.8h0.7v0.7h-0.7zM357.3,251.6h0.7v0.7h-0.7z" fill="#2f8fb8" fill-opacity="0.8"/>
<ellipse cx="331" cy="275.5" rx="7.5" ry="8.8" fill="none" stroke="#dde3d2" stroke-width="0.8" stroke-dasharray="0.7 1.3"/>
<ellipse cx="357.8" cy="276" rx="10.3" ry="11.2" fill="none" stroke="#dde3d2" stroke-width="0.8" stroke-dasharray="0.7 1.3"/>
<path d="M348.4,284.1h0.7v0.7h-0.7zM324.9,272.6h0.7v0.7h-0.7zM354.1,272.2h0.7v0.7h-0.7zM361.5,266.6h0.7v0.7h-0.7zM326.9,271.2h0.7v0.7h-0.7zM359.2,285.1h0.7v0.7h-0.7zM349.0,285.3h0.7v0.7h-0.7zM335.4,275.2h0.7v0.7h-0.7zM362.4,275.7h0.7v0.7h-0.7zM327.1,273.9h0.7v0.7h-0.7zM325.7,270.0h0.7v0.7h-0.7zM324.8,269.6h0.7v0.7h-0.7zM332.2,275.9h0.7v0.7h-0.7zM347.2,279.8h0.7v0.7h-0.7zM347.2,276.6h0.7v0.7h-0.7zM345.1,267.3h0.7v0.7h-0.7zM339.4,280.1h0.7v0.7h-0.7zM364.1,275.3h0.7v0.7h-0.7zM347.0,271.6h0.7v0.7h-0.7zM336.3,276.6h0.7v0.7h-0.7zM335.8,286.0h0.7v0.7h-0.7zM346.5,277.3h0.7v0.7h-0.7zM351.8,274.3h0.7v0.7h-0.7zM359.2,267.3h0.7v0.7h-0.7zM327.7,277.3h0.7v0.7h-0.7zM343.3,268.6h0.7v0.7h-0.7zM366.9,270.7h0.7v0.7h-0.7zM359.3,270.1h0.7v0.7h-0.7zM342.5,278.3h0.7v0.7h-0.7zM335.3,267.2h0.7v0.7h-0.7zM341.2,277.9h0.7v0.7h-0.7zM347.2,281.7h0.7v0.7h-0.7zM355.6,281.2h0.7v0.7h-0.7zM356.6,278.8h0.7v0.7h-0.7zM340.8,283.9h0.7v0.7h-0.7zM339.9,268.5h0.7v0.7h-0.7zM363.7,278.9h0.7v0.7h-0.7zM362.8,267.1h0.7v0.7h-0.7zM345.1,266.4h0.7v0.7h-0.7zM354.2,285.3h0.7v0.7h-0.7zM342.9,270.6h0.7v0.7h-0.7zM351.6,282.7h0.7v0.7h-0.7zM347.2,279.0h0.7v0.7h-0.7zM355.2,271.6h0.7v0.7h-0.7zM333.0,285.0h0.7v0.7h-0.7zM337.5,278.3h0.7v0.7h-0.7zM333.8,276.1h0.7v0.7h-0.7zM348.0,274.9h0.7v0.7h-0.7zM354.7,272.6h0.7v0.7h-0.7zM338.7,283.3h0.7v0.7h-0.7zM352.5,285.4h0.7v0.7h-0.7zM359.4,277.0h0.7v0.7h-0.7zM350.0,273.5h0.7v0.7h-0.7zM359.4,279.9h0.7v0.7h-0.7zM329.8,273.3h0.7v0.7h-0.7zM339.2,268.5h0.7v0.7h-0.7zM343.0,275.9h0.7v0.7h-0.7zM342.5,276.0h0.7v0.7h-0.7zM334.9,275.6h0.7v0.7h-0.7zM358.3,281.7h0.7v0.7h-0.7zM345.4,282.8h0.7v0.7h-0.7zM339.7,281.3h0.7v0.7h-0.7zM348.9,269.2h0.7v0.7h-0.7zM338.6,274.6h0.7v0.7h-0.7zM357.5,285.5h0.7v0.7h-0.7zM353.3,271.8h0.7v0.7h-0.7zM351.5,273.1h0.7v0.7h-0.7zM337.7,276.5h0.7v0.7h-0.7zM333.3,274.5h0.7v0.7h-0.7zM365.1,274.9h0.7v0.7h-0.7zM349.1,267.7h0.7v0.7h-0.7zM362.5,284.3h0.7v0.7h-0.7zM348.0,282.4h0.7v0.7h-0.7zM361.7,267.1h0.7v0.7h-0.7zM339.2,268.8h0.7v0.7h-0.7zM327.5,272.1h0.7v0.7h-0.7zM341.6,272.5h0.7v0.7h-0.7zM346.3,269.0h0.7v0.7h-0.7zM338.6,266.4h0.7v0.7h-0.7zM363.7,270.9h0.7v0.7h-0.7zM340.2,275.0h0.7v0.7h-0.7zM343.4,276.0h0.7v0.7h-0.7zM327.1,274.8h0.7v0.7h-0.7zM345.8,277.0h0.7v0.7h-0.7zM337.0,284.6h0.7v0.7h-0.7zM358.2,278.1h0.7v0.7h-0.7zM326.4,278.4h0.7v0.7h-0.7zM338.3,279.6h0.7v0.7h-0.7zM363.4,268.1h0.7v0.7h-0.7zM344.8,268.8h0.7v0.7h-0.7zM353.8,271.2h0.7v0.7h-0.7zM354.9,283.2h0.7v0.7h-0.7zM351.4,271.6h0.7v0.7h-0.7zM358.5,282.1h0.7v0.7h-0.7zM334.1,275.4h0.7v0.7h-0.7zM351.4,268.8h0.7v0.7h-0.7zM348.3,268.8h0.7v0.7h-0.7zM347.9,274.9h0.7v0.7h-0.7zM367.2,277.1h0.7v0.7h-0.7zM342.7,278.1h0.7v0.7h-0.7zM362.3,276.2h0.7v0.7h-0.7zM342.4,282.9h0.7v0.7h-0.7zM367.7,281.0h0.7v0.7h-0.7zM336.3,271.0h0.7v0.7h-0.7zM355.9,278.6h0.7v0.7h-0.7zM340.7,274.4h0.7v0.7h-0.7zM340.6,279.8h0.7v0.7h-0.7zM365.6,266.4h0.7v0.7h-0.7zM336.9,276.7h0.7v0.7h-0.7zM350.5,266.8h0.7v0.7h-0.7z" fill="#d3ddd0"/>
<path d="M363.9,246.6h0.8v0.8h-0.8zM379.3,251.9h0.8v0.8h-0.8zM378.4,246.6h0.8v0.8h-0.8zM374.9,252.5h0.8v0.8h-0.8zM368.7,253.6h0.8v0.8h-0.8zM374.7,247.0h0.8v0.8h-0.8zM379.3,250.1h0.8v0.8h-0.8zM375.5,252.6h0.8v0.8h-0.8zM371.1,248.3h0.8v0.8h-0.8zM375.2,255.6h0.8v0.8h-0.8zM374.4,249.2h0.8v0.8h-0.8zM370.6,253.2h0.8v0.8h-0.8zM361.1,253.0h0.8v0.8h-0.8zM372.6,247.8h0.8v0.8h-0.8zM369.3,246.4h0.8v0.8h-0.8zM371.5,246.6h0.8v0.8h-0.8zM373.7,249.1h0.8v0.8h-0.8zM379.3,251.7h0.8v0.8h-0.8zM377.7,257.3h0.8v0.8h-0.8zM368.2,256.6h0.8v0.8h-0.8zM377.9,247.3h0.8v0.8h-0.8zM368.4,257.9h0.8v0.8h-0.8zM364.1,251.8h0.8v0.8h-0.8zM375.1,259.1h0.8v0.8h-0.8zM370.8,251.1h0.8v0.8h-0.8zM375.6,247.2h0.8v0.8h-0.8zM375.0,250.2h0.8v0.8h-0.8zM377.2,246.3h0.8v0.8h-0.8zM373.5,248.1h0.8v0.8h-0.8zM379.0,263.3h0.8v0.8h-0.8zM377.7,247.5h0.8v0.8h-0.8zM370.4,253.4h0.8v0.8h-0.8zM362.9,255.4h0.8v0.8h-0.8zM372.9,247.5h0.8v0.8h-0.8zM377.8,251.4h0.8v0.8h-0.8zM378.1,259.2h0.8v0.8h-0.8zM373.7,248.2h0.8v0.8h-0.8zM371.4,262.8h0.8v0.8h-0.8zM367.1,249.9h0.8v0.8h-0.8zM374.1,250.7h0.8v0.8h-0.8zM360.8,246.5h0.8v0.8h-0.8zM377.4,254.2h0.8v0.8h-0.8zM366.4,249.3h0.8v0.8h-0.8zM376.1,248.2h0.8v0.8h-0.8zM374.5,250.5h0.8v0.8h-0.8zM371.5,249.1h0.8v0.8h-0.8zM372.4,251.8h0.8v0.8h-0.8zM370.0,252.5h0.8v0.8h-0.8zM379.0,250.6h0.8v0.8h-0.8zM378.9,249.0h0.8v0.8h-0.8zM367.0,251.6h0.8v0.8h-0.8zM374.8,247.0h0.8v0.8h-0.8zM369.6,246.0h0.8v0.8h-0.8zM370.4,258.8h0.8v0.8h-0.8zM378.1,247.1h0.8v0.8h-0.8zM374.5,254.9h0.8v0.8h-0.8zM373.8,248.1h0.8v0.8h-0.8zM367.1,257.7h0.8v0.8h-0.8zM372.9,257.6h0.8v0.8h-0.8zM378.8,258.6h0.8v0.8h-0.8zM374.0,255.2h0.8v0.8h-0.8zM375.7,258.1h0.8v0.8h-0.8zM368.0,250.0h0.8v0.8h-0.8zM375.3,246.5h0.8v0.8h-0.8zM378.5,250.6h0.8v0.8h-0.8zM378.4,246.3h0.8v0.8h-0.8zM372.9,255.2h0.8v0.8h-0.8zM374.2,254.1h0.8v0.8h-0.8zM368.2,247.2h0.8v0.8h-0.8zM362.0,248.4h0.8v0.8h-0.8zM369.3,248.1h0.8v0.8h-0.8zM376.3,247.1h0.8v0.8h-0.8zM378.4,250.8h0.8v0.8h-0.8zM373.1,249.0h0.8v0.8h-0.8zM376.9,258.9h0.8v0.8h-0.8zM365.3,252.6h0.8v0.8h-0.8zM369.7,250.4h0.8v0.8h-0.8zM376.0,256.9h0.8v0.8h-0.8zM377.5,254.0h0.8v0.8h-0.8zM377.0,257.1h0.8v0.8h-0.8zM366.3,253.6h0.8v0.8h-0.8zM372.2,249.6h0.8v0.8h-0.8zM377.9,250.4h0.8v0.8h-0.8zM378.7,251.2h0.8v0.8h-0.8zM361.9,252.8h0.8v0.8h-0.8zM378.0,250.9h0.8v0.8h-0.8zM371.6,246.5h0.8v0.8h-0.8zM371.3,256.2h0.8v0.8h-0.8zM374.3,256.4h0.8v0.8h-0.8zM371.5,252.9h0.8v0.8h-0.8zM366.3,250.8h0.8v0.8h-0.8zM376.8,250.3h0.8v0.8h-0.8zM377.6,261.3h0.8v0.8h-0.8zM367.5,251.3h0.8v0.8h-0.8zM370.7,251.4h0.8v0.8h-0.8zM369.0,254.8h0.8v0.8h-0.8zM371.6,249.0h0.8v0.8h-0.8zM373.1,262.9h0.8v0.8h-0.8zM374.8,260.7h0.8v0.8h-0.8zM377.6,257.9h0.8v0.8h-0.8zM375.6,249.8h0.8v0.8h-0.8zM375.9,261.3h0.8v0.8h-0.8zM367.1,254.8h0.8v0.8h-0.8zM374.0,253.0h0.8v0.8h-0.8zM368.5,254.2h0.8v0.8h-0.8zM373.2,246.4h0.8v0.8h-0.8zM375.1,251.8h0.8v0.8h-0.8zM366.8,253.3h0.8v0.8h-0.8zM374.9,253.6h0.8v0.8h-0.8zM378.3,253.7h0.8v0.8h-0.8zM370.3,252.2h0.8v0.8h-0.8zM372.9,247.3h0.8v0.8h-0.8zM378.5,246.9h0.8v0.8h-0.8zM376.4,249.3h0.8v0.8h-0.8zM377.3,249.5h0.8v0.8h-0.8zM379.4,249.7h0.8v0.8h-0.8zM373.6,248.3h0.8v0.8h-0.8zM372.1,253.8h0.8v0.8h-0.8zM378.1,248.8h0.8v0.8h-0.8zM377.3,253.9h0.8v0.8h-0.8zM379.4,259.7h0.8v0.8h-0.8zM377.2,250.2h0.8v0.8h-0.8zM373.8,247.5h0.8v0.8h-0.8zM371.2,250.5h0.8v0.8h-0.8zM375.3,249.3h0.8v0.8h-0.8zM372.7,250.9h0.8v0.8h-0.8zM375.1,252.3h0.8v0.8h-0.8zM376.8,263.2h0.8v0.8h-0.8zM370.3,250.3h0.8v0.8h-0.8zM375.2,258.0h0.8v0.8h-0.8zM371.8,250.8h0.8v0.8h-0.8zM369.1,249.5h0.8v0.8h-0.8zM373.2,256.1h0.8v0.8h-0.8zM376.5,246.6h0.8v0.8h-0.8zM361.2,256.8h0.8v0.8h-0.8zM367.7,251.8h0.8v0.8h-0.8zM371.9,250.3h0.8v0.8h-0.8zM374.9,249.4h0.8v0.8h-0.8zM374.6,255.1h0.8v0.8h-0.8zM378.4,252.4h0.8v0.8h-0.8zM377.5,254.1h0.8v0.8h-0.8zM375.2,259.9h0.8v0.8h-0.8zM373.4,252.4h0.8v0.8h-0.8zM364.0,254.3h0.8v0.8h-0.8zM377.1,247.5h0.8v0.8h-0.8zM373.3,252.4h0.8v0.8h-0.8zM369.9,246.2h0.8v0.8h-0.8zM373.6,257.4h0.8v0.8h-0.8zM375.1,252.6h0.8v0.8h-0.8zM365.1,248.9h0.8v0.8h-0.8zM376.8,260.4h0.8v0.8h-0.8zM379.0,249.0h0.8v0.8h-0.8zM369.1,260.2h0.8v0.8h-0.8zM363.2,256.3h0.8v0.8h-0.8zM377.8,248.2h0.8v0.8h-0.8zM368.5,261.3h0.8v0.8h-0.8zM371.1,248.4h0.8v0.8h-0.8zM379.5,250.2h0.8v0.8h-0.8zM366.2,249.3h0.8v0.8h-0.8zM378.2,252.5h0.8v0.8h-0.8zM370.8,255.1h0.8v0.8h-0.8zM369.2,252.5h0.8v0.8h-0.8zM370.4,251.2h0.8v0.8h-0.8zM376.3,249.9h0.8v0.8h-0.8zM369.7,251.5h0.8v0.8h-0.8zM375.8,260.7h0.8v0.8h-0.8zM371.1,249.3h0.8v0.8h-0.8zM379.1,248.8h0.8v0.8h-0.8zM374.4,250.1h0.8v0.8h-0.8zM376.1,250.9h0.8v0.8h-0.8zM377.8,248.2h0.8v0.8h-0.8zM375.5,249.7h0.8v0.8h-0.8zM375.7,250.8h0.8v0.8h-0.8zM375.4,247.0h0.8v0.8h-0.8zM372.4,257.3h0.8v0.8h-0.8zM366.7,253.5h0.8v0.8h-0.8zM377.9,261.3h0.8v0.8h-0.8zM367.1,255.0h0.8v0.8h-0.8zM375.4,253.4h0.8v0.8h-0.8zM379.1,254.2h0.8v0.8h-0.8zM379.3,249.2h0.8v0.8h-0.8zM364.4,248.2h0.8v0.8h-0.8zM374.7,249.6h0.8v0.8h-0.8zM371.3,246.2h0.8v0.8h-0.8zM365.0,252.1h0.8v0.8h-0.8zM378.9,261.4h0.8v0.8h-0.8zM370.7,258.7h0.8v0.8h-0.8zM376.1,246.3h0.8v0.8h-0.8zM371.3,250.5h0.8v0.8h-0.8zM373.4,252.3h0.8v0.8h-0.8zM364.5,250.9h0.8v0.8h-0.8zM368.3,246.8h0.8v0.8h-0.8zM375.4,246.5h0.8v0.8h-0.8zM376.7,257.9h0.8v0.8h-0.8zM375.3,247.1h0.8v0.8h-0.8zM377.1,252.7h0.8v0.8h-0.8zM377.5,259.8h0.8v0.8h-0.8zM362.4,247.9h0.8v0.8h-0.8zM379.0,258.7h0.8v0.8h-0.8zM367.5,252.0h0.8v0.8h-0.8zM371.3,248.1h0.8v0.8h-0.8zM374.3,256.0h0.8v0.8h-0.8zM370.2,249.2h0.8v0.8h-0.8zM376.7,248.8h0.8v0.8h-0.8zM371.7,246.6h0.8v0.8h-0.8zM377.7,251.0h0.8v0.8h-0.8zM379.5,247.4h0.8v0.8h-0.8zM375.6,250.1h0.8v0.8h-0.8zM374.3,247.1h0.8v0.8h-0.8zM373.4,249.5h0.8v0.8h-0.8zM377.5,248.5h0.8v0.8h-0.8zM379.3,255.0h0.8v0.8h-0.8zM372.4,249.3h0.8v0.8h-0.8zM370.5,247.6h0.8v0.8h-0.8zM375.7,262.5h0.8v0.8h-0.8zM362.7,252.2h0.8v0.8h-0.8zM376.4,246.6h0.8v0.8h-0.8zM371.5,258.3h0.8v0.8h-0.8zM379.5,254.8h0.8v0.8h-0.8zM379.5,247.2h0.8v0.8h-0.8zM371.3,253.1h0.8v0.8h-0.8zM372.9,259.4h0.8v0.8h-0.8zM372.0,246.6h0.8v0.8h-0.8zM375.0,253.8h0.8v0.8h-0.8zM379.4,262.9h0.8v0.8h-0.8zM368.2,246.8h0.8v0.8h-0.8zM361.9,250.5h0.8v0.8h-0.8zM372.6,250.5h0.8v0.8h-0.8zM375.4,248.5h0.8v0.8h-0.8zM377.5,249.8h0.8v0.8h-0.8zM378.8,246.0h0.8v0.8h-0.8zM370.2,250.7h0.8v0.8h-0.8zM371.0,260.0h0.8v0.8h-0.8zM365.7,250.3h0.8v0.8h-0.8zM369.4,256.9h0.8v0.8h-0.8zM365.9,254.1h0.8v0.8h-0.8zM376.8,251.7h0.8v0.8h-0.8zM378.2,256.1h0.8v0.8h-0.8zM367.6,252.3h0.8v0.8h-0.8zM373.9,248.0h0.8v0.8h-0.8zM362.9,254.2h0.8v0.8h-0.8zM377.9,249.1h0.8v0.8h-0.8zM378.7,254.9h0.8v0.8h-0.8zM370.0,252.5h0.8v0.8h-0.8zM372.5,251.0h0.8v0.8h-0.8zM369.7,247.4h0.8v0.8h-0.8zM373.4,262.7h0.8v0.8h-0.8zM375.6,246.8h0.8v0.8h-0.8zM374.4,260.0h0.8v0.8h-0.8zM378.7,253.6h0.8v0.8h-0.8zM377.6,249.3h0.8v0.8h-0.8zM379.1,249.0h0.8v0.8h-0.8zM379.2,248.9h0.8v0.8h-0.8zM372.3,248.5h0.8v0.8h-0.8zM368.0,251.3h0.8v0.8h-0.8zM376.5,263.6h0.8v0.8h-0.8zM378.2,247.2h0.8v0.8h-0.8zM370.5,253.6h0.8v0.8h-0.8zM378.9,257.5h0.8v0.8h-0.8zM378.5,248.5h0.8v0.8h-0.8z" fill="#e6e1d8"/>
<path d="M376.2,292.9h0.75v0.75h-0.75zM377.3,292.7h0.75v0.75h-0.75zM377.0,276.1h0.75v0.75h-0.75zM374.7,290.7h0.75v0.75h-0.75zM378.9,288.2h0.75v0.75h-0.75zM378.3,279.2h0.75v0.75h-0.75zM377.6,269.8h0.75v0.75h-0.75zM379.2,296.4h0.75v0.75h-0.75zM377.2,267.6h0.75v0.75h-0.75zM371.9,290.2h0.75v0.75h-0.75zM379.1,263.0h0.75v0.75h-0.75zM378.8,286.6h0.75v0.75h-0.75zM379.0,267.7h0.75v0.75h-0.75zM378.1,296.8h0.75v0.75h-0.75zM379.3,296.2h0.75v0.75h-0.75zM375.3,277.0h0.75v0.75h-0.75zM375.4,287.6h0.75v0.75h-0.75zM376.4,265.5h0.75v0.75h-0.75zM374.1,270.2h0.75v0.75h-0.75zM379.3,276.5h0.75v0.75h-0.75zM378.4,280.0h0.75v0.75h-0.75zM378.5,272.0h0.75v0.75h-0.75zM370.1,269.1h0.75v0.75h-0.75zM375.2,272.2h0.75v0.75h-0.75zM375.6,267.6h0.75v0.75h-0.75zM378.2,267.6h0.75v0.75h-0.75zM372.9,266.0h0.75v0.75h-0.75zM379.3,290.2h0.75v0.75h-0.75zM368.3,270.7h0.75v0.75h-0.75zM376.0,271.1h0.75v0.75h-0.75zM377.0,291.1h0.75v0.75h-0.75zM378.9,279.6h0.75v0.75h-0.75zM374.6,266.0h0.75v0.75h-0.75zM376.3,290.7h0.75v0.75h-0.75zM379.0,283.2h0.75v0.75h-0.75zM379.3,283.7h0.75v0.75h-0.75zM376.6,266.6h0.75v0.75h-0.75zM378.6,272.7h0.75v0.75h-0.75zM378.7,292.3h0.75v0.75h-0.75zM372.5,289.7h0.75v0.75h-0.75zM376.9,274.3h0.75v0.75h-0.75zM377.7,267.4h0.75v0.75h-0.75zM378.5,276.2h0.75v0.75h-0.75zM376.9,279.1h0.75v0.75h-0.75zM375.3,290.9h0.75v0.75h-0.75zM379.3,274.6h0.75v0.75h-0.75zM372.8,290.7h0.75v0.75h-0.75zM375.1,283.2h0.75v0.75h-0.75zM373.8,294.2h0.75v0.75h-0.75zM370.9,288.3h0.75v0.75h-0.75zM378.1,285.0h0.75v0.75h-0.75zM377.4,268.8h0.75v0.75h-0.75zM377.4,274.2h0.75v0.75h-0.75zM378.5,294.5h0.75v0.75h-0.75zM377.8,287.2h0.75v0.75h-0.75zM378.6,286.3h0.75v0.75h-0.75zM374.4,270.4h0.75v0.75h-0.75zM376.5,278.4h0.75v0.75h-0.75zM370.8,295.1h0.75v0.75h-0.75zM375.8,287.3h0.75v0.75h-0.75zM376.0,287.5h0.75v0.75h-0.75zM379.1,280.0h0.75v0.75h-0.75zM376.1,268.2h0.75v0.75h-0.75zM378.0,289.8h0.75v0.75h-0.75zM379.1,274.5h0.75v0.75h-0.75zM378.3,281.4h0.75v0.75h-0.75zM377.8,284.8h0.75v0.75h-0.75zM378.6,295.1h0.75v0.75h-0.75zM375.7,279.1h0.75v0.75h-0.75zM377.7,283.4h0.75v0.75h-0.75zM375.6,276.0h0.75v0.75h-0.75zM377.9,296.8h0.75v0.75h-0.75zM376.3,274.3h0.75v0.75h-0.75zM376.9,273.1h0.75v0.75h-0.75zM375.4,271.7h0.75v0.75h-0.75zM372.3,269.7h0.75v0.75h-0.75zM378.3,278.1h0.75v0.75h-0.75zM375.4,288.9h0.75v0.75h-0.75zM376.9,272.0h0.75v0.75h-0.75zM378.6,265.5h0.75v0.75h-0.75zM378.6,292.2h0.75v0.75h-0.75zM372.2,284.7h0.75v0.75h-0.75zM376.8,276.5h0.75v0.75h-0.75zM373.8,263.1h0.75v0.75h-0.75zM375.8,277.6h0.75v0.75h-0.75zM374.1,265.7h0.75v0.75h-0.75zM371.1,289.6h0.75v0.75h-0.75zM377.8,292.0h0.75v0.75h-0.75zM377.9,263.1h0.75v0.75h-0.75zM373.5,269.3h0.75v0.75h-0.75zM378.4,281.4h0.75v0.75h-0.75zM378.4,279.5h0.75v0.75h-0.75zM377.7,283.9h0.75v0.75h-0.75zM379.5,265.2h0.75v0.75h-0.75zM378.6,285.9h0.75v0.75h-0.75zM378.9,288.0h0.75v0.75h-0.75zM377.1,296.7h0.75v0.75h-0.75zM378.0,271.7h0.75v0.75h-0.75zM379.3,290.9h0.75v0.75h-0.75zM376.5,294.7h0.75v0.75h-0.75zM375.9,287.1h0.75v0.75h-0.75zM376.5,267.4h0.75v0.75h-0.75zM377.7,271.8h0.75v0.75h-0.75zM377.8,275.8h0.75v0.75h-0.75zM378.2,275.3h0.75v0.75h-0.75zM378.7,263.6h0.75v0.75h-0.75zM372.7,289.1h0.75v0.75h-0.75zM378.0,290.0h0.75v0.75h-0.75zM370.2,271.1h0.75v0.75h-0.75zM378.1,277.5h0.75v0.75h-0.75zM379.5,280.2h0.75v0.75h-0.75zM377.6,280.3h0.75v0.75h-0.75zM377.2,283.4h0.75v0.75h-0.75zM379.1,266.9h0.75v0.75h-0.75zM377.8,267.5h0.75v0.75h-0.75zM375.0,267.1h0.75v0.75h-0.75zM377.9,280.3h0.75v0.75h-0.75zM379.2,276.4h0.75v0.75h-0.75zM378.5,264.2h0.75v0.75h-0.75zM379.5,286.8h0.75v0.75h-0.75zM372.9,271.9h0.75v0.75h-0.75zM373.7,262.2h0.75v0.75h-0.75zM374.2,270.5h0.75v0.75h-0.75zM378.1,275.7h0.75v0.75h-0.75zM374.0,281.0h0.75v0.75h-0.75zM374.2,278.0h0.75v0.75h-0.75zM377.6,287.7h0.75v0.75h-0.75zM378.2,270.1h0.75v0.75h-0.75zM374.8,271.2h0.75v0.75h-0.75zM371.0,286.5h0.75v0.75h-0.75z" fill="#e6e1d8"/>
<path d="M379.5,273.4h0.7v0.7h-0.7zM379.6,280.3h0.7v0.7h-0.7zM377.9,283.5h0.7v0.7h-0.7zM379.0,255.4h0.7v0.7h-0.7zM379.3,253.2h0.7v0.7h-0.7zM378.7,251.4h0.7v0.7h-0.7zM380.0,256.4h0.7v0.7h-0.7zM378.5,286.7h0.7v0.7h-0.7zM379.7,252.1h0.7v0.7h-0.7zM377.8,284.5h0.7v0.7h-0.7zM379.7,292.5h0.7v0.7h-0.7zM378.9,288.7h0.7v0.7h-0.7zM377.9,289.1h0.7v0.7h-0.7zM378.4,268.9h0.7v0.7h-0.7zM379.0,256.8h0.7v0.7h-0.7zM379.6,276.0h0.7v0.7h-0.7zM378.2,284.6h0.7v0.7h-0.7zM380.0,253.2h0.7v0.7h-0.7zM379.3,251.0h0.7v0.7h-0.7zM378.2,274.0h0.7v0.7h-0.7zM378.1,263.0h0.7v0.7h-0.7zM379.0,278.7h0.7v0.7h-0.7zM378.1,261.5h0.7v0.7h-0.7zM378.8,269.6h0.7v0.7h-0.7zM379.5,273.3h0.7v0.7h-0.7zM378.7,294.0h0.7v0.7h-0.7zM377.5,283.1h0.7v0.7h-0.7zM378.4,247.1h0.7v0.7h-0.7zM377.9,275.8h0.7v0.7h-0.7zM377.9,260.8h0.7v0.7h-0.7zM377.6,278.3h0.7v0.7h-0.7zM378.9,268.7h0.7v0.7h-0.7zM378.8,260.0h0.7v0.7h-0.7zM378.3,279.6h0.7v0.7h-0.7zM379.8,272.7h0.7v0.7h-0.7zM378.6,295.5h0.7v0.7h-0.7zM379.8,261.0h0.7v0.7h-0.7zM378.0,247.7h0.7v0.7h-0.7zM379.1,261.3h0.7v0.7h-0.7zM378.8,266.7h0.7v0.7h-0.7z" fill="#0f6eb6"/>
<rect x="380.6" y="246.8" width="1" height="1" fill="#0f6eb6"/><rect x="382.6" y="252" width="1" height="1" fill="#0f6eb6"/>
<line x1="274.5" y1="200.5" x2="274.5" y2="330.5" stroke="#4a4a4a" stroke-width="0.7"/>
<line x1="274.5" y1="330.5" x2="408.5" y2="330.5" stroke="#4a4a4a" stroke-width="0.7"/>
<line x1="302.3" y1="330.5" x2="302.3" y2="329" stroke="#4a4a4a" stroke-width="0.7"/>
<text x="302.3" y="342.63" font-size="9.8" text-anchor="middle">30</text>
<line x1="341.8" y1="330.5" x2="341.8" y2="329" stroke="#4a4a4a" stroke-width="0.7"/>
<text x="341.8" y="342.63" font-size="9.8" text-anchor="middle">40</text>
<line x1="381.3" y1="330.5" x2="381.3" y2="329" stroke="#4a4a4a" stroke-width="0.7"/>
<text x="381.3" y="342.63" font-size="9.8" text-anchor="middle">50</text>
<line x1="274.5" y1="215.7" x2="276" y2="215.7" stroke="#4a4a4a" stroke-width="0.7"/>
<text x="272.1" y="218.93" font-size="9.8" text-anchor="end">-70</text>
<line x1="274.5" y1="234.8" x2="276" y2="234.8" stroke="#4a4a4a" stroke-width="0.7"/>
<text x="272.1" y="238.03" font-size="9.8" text-anchor="end">-75</text>
<line x1="274.5" y1="254" x2="276" y2="254" stroke="#4a4a4a" stroke-width="0.7"/>
<text x="272.1" y="257.23" font-size="9.8" text-anchor="end">-80</text>
<line x1="274.5" y1="273.1" x2="276" y2="273.1" stroke="#4a4a4a" stroke-width="0.7"/>
<text x="272.1" y="276.33" font-size="9.8" text-anchor="end">-85</text>
<line x1="274.5" y1="292.3" x2="276" y2="292.3" stroke="#4a4a4a" stroke-width="0.7"/>
<text x="272.1" y="295.53" font-size="9.8" text-anchor="end">-90</text>
<line x1="274.5" y1="311.4" x2="276" y2="311.4" stroke="#4a4a4a" stroke-width="0.7"/>
<text x="272.1" y="314.63" font-size="9.8" text-anchor="end">-95</text>
<text x="359.6" y="353.5" font-size="12.1" text-anchor="middle">X(mm)</text>
<text x="253.5" y="260" font-size="11.7" text-anchor="middle" transform="rotate(-90 253.5 260)">Y(mm)</text>
<rect x="428.7" y="199.1" width="7.9" height="131.9" fill="url(#cb)" stroke="#666" stroke-width="0.3"/>
<text x="439.3" y="205.37" font-size="8.7" text-anchor="start">360</text>
<text x="439.3" y="224.62" font-size="8.7" text-anchor="start">355</text>
<text x="439.3" y="243.87" font-size="8.7" text-anchor="start">350</text>
<text x="439.3" y="263.12" font-size="8.7" text-anchor="start">345</text>
<text x="439.3" y="282.37" font-size="8.7" text-anchor="start">340</text>
<text x="439.3" y="301.62" font-size="8.7" text-anchor="start">335</text>
<text x="439.3" y="320.87" font-size="8.7" text-anchor="start">330</text>
<text x="3" y="387.4" font-size="13.6" text-anchor="start">(c)</text>
<text x="102.9" y="384.6" font-size="11.35" text-anchor="middle">Traditional Method</text>
<line x1="64.7" y1="389.2" x2="64.7" y2="517.5" stroke="#262626" stroke-width="0.5" stroke-opacity="0.12"/>
<line x1="103.7" y1="389.2" x2="103.7" y2="517.5" stroke="#262626" stroke-width="0.5" stroke-opacity="0.12"/>
<line x1="142.7" y1="389.2" x2="142.7" y2="517.5" stroke="#262626" stroke-width="0.5" stroke-opacity="0.12"/>
<line x1="37.5" y1="508.9" x2="168.4" y2="508.9" stroke="#262626" stroke-width="0.5" stroke-opacity="0.12"/>
<line x1="37.5" y1="489.5" x2="168.4" y2="489.5" stroke="#262626" stroke-width="0.5" stroke-opacity="0.12"/>
<line x1="37.5" y1="470.1" x2="168.4" y2="470.1" stroke="#262626" stroke-width="0.5" stroke-opacity="0.12"/>
<line x1="37.5" y1="450.7" x2="168.4" y2="450.7" stroke="#262626" stroke-width="0.5" stroke-opacity="0.12"/>
<line x1="37.5" y1="431.3" x2="168.4" y2="431.3" stroke="#262626" stroke-width="0.5" stroke-opacity="0.12"/>
<line x1="37.5" y1="411.9" x2="168.4" y2="411.9" stroke="#262626" stroke-width="0.5" stroke-opacity="0.12"/>
<line x1="37.5" y1="392.5" x2="168.4" y2="392.5" stroke="#262626" stroke-width="0.5" stroke-opacity="0.12"/>
<g clip-path="url(#clipc)"><ellipse cx="103" cy="453.6" rx="65" ry="64.4" fill="url(#sph)"/></g>
<path d="M80.9,393.7 Q91,390.2 105.1,389.1 Q119,391 129.6,395.4 L137.5,399.6 L135.8,408 L131.4,402.8 Q122,400.5 113.9,400.2 Q98,400.3 82.6,403.7Z" fill="#0f6eb6"/>
<path d="M92,391.6 Q105,390.3 121,393.2" fill="none" stroke="#3f97a2" stroke-width="0.8" stroke-opacity="0.7"/>
<path d="M129.3,402.9h0.8v0.8h-0.8zM131.4,403.8h0.8v0.8h-0.8zM134.2,400.1h0.8v0.8h-0.8zM137.2,405.6h0.8v0.8h-0.8zM131.3,403.8h0.8v0.8h-0.8zM136.8,401.2h0.8v0.8h-0.8zM134.2,405.3h0.8v0.8h-0.8zM133.5,400.0h0.8v0.8h-0.8zM137.7,402.5h0.8v0.8h-0.8zM128.3,402.1h0.8v0.8h-0.8zM127.5,397.0h0.8v0.8h-0.8zM134.9,403.8h0.8v0.8h-0.8zM135.9,402.0h0.8v0.8h-0.8zM134.1,400.0h0.8v0.8h-0.8zM137.9,407.5h0.8v0.8h-0.8zM131.4,399.8h0.8v0.8h-0.8zM129.2,400.8h0.8v0.8h-0.8zM134.1,400.0h0.8v0.8h-0.8zM133.1,401.8h0.8v0.8h-0.8zM136.5,405.7h0.8v0.8h-0.8zM126.6,397.1h0.8v0.8h-0.8zM131.8,401.0h0.8v0.8h-0.8zM133.8,403.3h0.8v0.8h-0.8zM131.7,403.9h0.8v0.8h-0.8zM127.9,397.4h0.8v0.8h-0.8zM132.2,403.0h0.8v0.8h-0.8zM129.3,401.2h0.8v0.8h-0.8zM136.4,407.2h0.8v0.8h-0.8zM136.3,402.5h0.8v0.8h-0.8zM137.3,406.7h0.8v0.8h-0.8zM131.1,399.2h0.8v0.8h-0.8zM136.1,406.6h0.8v0.8h-0.8zM131.6,404.0h0.8v0.8h-0.8zM129.0,397.6h0.8v0.8h-0.8zM131.4,403.4h0.8v0.8h-0.8zM132.7,403.8h0.8v0.8h-0.8zM135.2,402.4h0.8v0.8h-0.8zM135.9,404.8h0.8v0.8h-0.8zM137.3,405.7h0.8v0.8h-0.8zM128.7,401.7h0.8v0.8h-0.8z" fill="#0f6eb6"/>
<rect x="141.2" y="406.2" width="1" height="1" fill="#0f6eb6"/>
<line x1="37.5" y1="389.2" x2="168.4" y2="389.2" stroke="#262626" stroke-width="0.5" stroke-opacity="0.12"/>
<line x1="37.5" y1="389.2" x2="37.5" y2="517.5" stroke="#4a4a4a" stroke-width="0.7"/>
<line x1="37.5" y1="517.5" x2="168.4" y2="517.5" stroke="#4a4a4a" stroke-width="0.7"/>
<line x1="64.7" y1="517.5" x2="64.7" y2="520" stroke="#4a4a4a" stroke-width="0.7"/>
<text x="64.7" y="532.47" font-size="9.3" text-anchor="middle">30</text>
<line x1="103.7" y1="517.5" x2="103.7" y2="520" stroke="#4a4a4a" stroke-width="0.7"/>
<text x="103.7" y="532.47" font-size="9.3" text-anchor="middle">40</text>
<line x1="142.7" y1="517.5" x2="142.7" y2="520" stroke="#4a4a4a" stroke-width="0.7"/>
<text x="142.7" y="532.47" font-size="9.3" text-anchor="middle">50</text>
<line x1="37.5" y1="508.9" x2="34.5" y2="508.9" stroke="#4a4a4a" stroke-width="0.7"/>
<text x="32.3" y="512.77" font-size="9.3" text-anchor="end">330</text>
<line x1="37.5" y1="489.5" x2="34.5" y2="489.5" stroke="#4a4a4a" stroke-width="0.7"/>
<text x="32.3" y="493.37" font-size="9.3" text-anchor="end">335</text>
<line x1="37.5" y1="470.1" x2="34.5" y2="470.1" stroke="#4a4a4a" stroke-width="0.7"/>
<text x="32.3" y="473.97" font-size="9.3" text-anchor="end">340</text>
<line x1="37.5" y1="450.7" x2="34.5" y2="450.7" stroke="#4a4a4a" stroke-width="0.7"/>
<text x="32.3" y="454.57" font-size="9.3" text-anchor="end">345</text>
<line x1="37.5" y1="431.3" x2="34.5" y2="431.3" stroke="#4a4a4a" stroke-width="0.7"/>
<text x="32.3" y="435.17" font-size="9.3" text-anchor="end">350</text>
<line x1="37.5" y1="411.9" x2="34.5" y2="411.9" stroke="#4a4a4a" stroke-width="0.7"/>
<text x="32.3" y="415.77" font-size="9.3" text-anchor="end">355</text>
<line x1="37.5" y1="392.5" x2="34.5" y2="392.5" stroke="#4a4a4a" stroke-width="0.7"/>
<text x="32.3" y="396.37" font-size="9.3" text-anchor="end">360</text>
<text x="103.5" y="543.4" font-size="11.4" text-anchor="middle">X(mm)</text>
<text x="13.5" y="453.2" font-size="11.2" text-anchor="middle" transform="rotate(-90 13.5 453.2)">Z(mm)</text>
<rect x="189.2" y="389.1" width="7.6" height="128.2" fill="url(#cb)" stroke="#666" stroke-width="0.3"/>
<text x="199.6" y="395.21" font-size="8.2" text-anchor="start">360</text>
<text x="199.6" y="414.61" font-size="8.2" text-anchor="start">355</text>
<text x="199.6" y="434.01" font-size="8.2" text-anchor="start">350</text>
<text x="199.6" y="453.41" font-size="8.2" text-anchor="start">345</text>
<text x="199.6" y="472.81" font-size="8.2" text-anchor="start">340</text>
<text x="199.6" y="492.21" font-size="8.2" text-anchor="start">335</text>
<text x="199.6" y="511.61" font-size="8.2" text-anchor="start">330</text>
<text x="243.8" y="387.4" font-size="13.6" text-anchor="start">(f)</text>
<text x="341.8" y="385.5" font-size="12.15" text-anchor="middle">Proposed Method</text>
<line x1="302.8" y1="392.7" x2="302.8" y2="521.5" stroke="#262626" stroke-width="0.5" stroke-opacity="0.12"/>
<line x1="341.8" y1="392.7" x2="341.8" y2="521.5" stroke="#262626" stroke-width="0.5" stroke-opacity="0.12"/>
<line x1="380.8" y1="392.7" x2="380.8" y2="521.5" stroke="#262626" stroke-width="0.5" stroke-opacity="0.12"/>
<line x1="275.5" y1="509.4" x2="407.7" y2="509.4" stroke="#262626" stroke-width="0.5" stroke-opacity="0.12"/>
<line x1="275.5" y1="490.8" x2="407.7" y2="490.8" stroke="#262626" stroke-width="0.5" stroke-opacity="0.12"/>
<line x1="275.5" y1="472.1" x2="407.7" y2="472.1" stroke="#262626" stroke-width="0.5" stroke-opacity="0.12"/>
<line x1="275.5" y1="453.5" x2="407.7" y2="453.5" stroke="#262626" stroke-width="0.5" stroke-opacity="0.12"/>
<line x1="275.5" y1="434.9" x2="407.7" y2="434.9" stroke="#262626" stroke-width="0.5" stroke-opacity="0.12"/>
<line x1="275.5" y1="416.2" x2="407.7" y2="416.2" stroke="#262626" stroke-width="0.5" stroke-opacity="0.12"/>
<line x1="275.5" y1="397.6" x2="407.7" y2="397.6" stroke="#262626" stroke-width="0.5" stroke-opacity="0.12"/>
<g clip-path="url(#clipf)"><ellipse cx="342" cy="457.4" rx="65.3" ry="63.7" fill="url(#sph)"/></g>
<path d="M317.2,398.4 Q326.7,395.3 336.6,393.3 Q343,392.6 350.4,393.3 Q358,394.5 364.2,396.8 Q370,399.5 379,405.7 L378,412.2 L370.1,408.3 Q364,406 358.3,404.7 Q351,403.5 344.5,403.7 Q337,404 330.7,405.1 Q324,406.5 318.8,408.3Z" fill="#0f6eb6"/>
<path d="M374.4,408.2h0.8v0.8h-0.8zM372.0,405.8h0.8v0.8h-0.8zM367.6,406.7h0.8v0.8h-0.8zM376.1,411.1h0.8v0.8h-0.8zM379.5,407.2h0.8v0.8h-0.8zM378.1,406.9h0.8v0.8h-0.8zM374.4,405.6h0.8v0.8h-0.8zM378.3,409.2h0.8v0.8h-0.8zM380.0,412.6h0.8v0.8h-0.8zM379.7,410.8h0.8v0.8h-0.8zM374.4,405.0h0.8v0.8h-0.8zM376.6,409.0h0.8v0.8h-0.8zM376.7,410.1h0.8v0.8h-0.8zM371.8,405.1h0.8v0.8h-0.8zM374.7,408.0h0.8v0.8h-0.8zM375.9,408.9h0.8v0.8h-0.8zM371.1,409.2h0.8v0.8h-0.8zM377.1,410.3h0.8v0.8h-0.8zM372.3,405.8h0.8v0.8h-0.8zM374.6,406.4h0.8v0.8h-0.8zM375.4,406.0h0.8v0.8h-0.8zM372.8,407.0h0.8v0.8h-0.8zM369.5,408.2h0.8v0.8h-0.8zM375.1,408.8h0.8v0.8h-0.8zM373.3,404.5h0.8v0.8h-0.8zM376.1,410.1h0.8v0.8h-0.8zM375.2,405.3h0.8v0.8h-0.8zM374.6,408.9h0.8v0.8h-0.8zM377.5,410.9h0.8v0.8h-0.8zM375.4,408.0h0.8v0.8h-0.8zM372.6,404.4h0.8v0.8h-0.8zM374.5,406.4h0.8v0.8h-0.8zM379.9,409.2h0.8v0.8h-0.8zM372.8,409.6h0.8v0.8h-0.8zM376.6,410.8h0.8v0.8h-0.8zM379.5,410.0h0.8v0.8h-0.8zM379.7,408.4h0.8v0.8h-0.8zM369.4,407.2h0.8v0.8h-0.8zM375.2,406.3h0.8v0.8h-0.8zM377.8,411.7h0.8v0.8h-0.8z" fill="#0f6eb6"/>
<rect x="379.6" y="409.2" width="1" height="1" fill="#0f6eb6"/><rect x="382" y="409.9" width="1" height="1" fill="#0f6eb6"/>
<line x1="275.5" y1="392.7" x2="407.7" y2="392.7" stroke="#262626" stroke-width="0.5" stroke-opacity="0.12"/>
<line x1="275.5" y1="392.7" x2="275.5" y2="521.5" stroke="#4a4a4a" stroke-width="0.7"/>
<line x1="275.5" y1="521.5" x2="407.7" y2="521.5" stroke="#4a4a4a" stroke-width="0.7"/>
<line x1="302.8" y1="521.5" x2="302.8" y2="524" stroke="#4a4a4a" stroke-width="0.7"/>
<text x="302.8" y="537.5" font-size="9.7" text-anchor="middle">30</text>
<line x1="341.8" y1="521.5" x2="341.8" y2="524" stroke="#4a4a4a" stroke-width="0.7"/>
<text x="341.8" y="537.5" font-size="9.7" text-anchor="middle">40</text>
<line x1="380.8" y1="521.5" x2="380.8" y2="524" stroke="#4a4a4a" stroke-width="0.7"/>
<text x="380.8" y="537.5" font-size="9.7" text-anchor="middle">50</text>
<line x1="275.5" y1="509.4" x2="272.5" y2="509.4" stroke="#4a4a4a" stroke-width="0.7"/>
<text x="269.5" y="513" font-size="9.7" text-anchor="end">330</text>
<line x1="275.5" y1="490.8" x2="272.5" y2="490.8" stroke="#4a4a4a" stroke-width="0.7"/>
<text x="269.5" y="494.4" font-size="9.7" text-anchor="end">335</text>
<line x1="275.5" y1="472.1" x2="272.5" y2="472.1" stroke="#4a4a4a" stroke-width="0.7"/>
<text x="269.5" y="475.7" font-size="9.7" text-anchor="end">340</text>
<line x1="275.5" y1="453.5" x2="272.5" y2="453.5" stroke="#4a4a4a" stroke-width="0.7"/>
<text x="269.5" y="457.1" font-size="9.7" text-anchor="end">345</text>
<line x1="275.5" y1="434.9" x2="272.5" y2="434.9" stroke="#4a4a4a" stroke-width="0.7"/>
<text x="269.5" y="438.5" font-size="9.7" text-anchor="end">350</text>
<line x1="275.5" y1="416.2" x2="272.5" y2="416.2" stroke="#4a4a4a" stroke-width="0.7"/>
<text x="269.5" y="419.8" font-size="9.7" text-anchor="end">355</text>
<line x1="275.5" y1="397.6" x2="272.5" y2="397.6" stroke="#4a4a4a" stroke-width="0.7"/>
<text x="269.5" y="401.2" font-size="9.7" text-anchor="end">360</text>
<text x="340.4" y="546.3" font-size="12.1" text-anchor="middle">X(mm)</text>
<text x="251" y="456" font-size="11.7" text-anchor="middle" transform="rotate(-90 251 456)">Z(mm)</text>
<rect x="428.7" y="390.5" width="7.9" height="131.6" fill="url(#cb)" stroke="#666" stroke-width="0.3"/>
<text x="439.3" y="396.17" font-size="8.7" text-anchor="start">360</text>
<text x="439.3" y="415.67" font-size="8.7" text-anchor="start">355</text>
<text x="439.3" y="435.17" font-size="8.7" text-anchor="start">350</text>
<text x="439.3" y="454.67" font-size="8.7" text-anchor="start">345</text>
<text x="439.3" y="474.17" font-size="8.7" text-anchor="start">340</text>
<text x="439.3" y="493.67" font-size="8.7" text-anchor="start">335</text>
<text x="439.3" y="513.17" font-size="8.7" text-anchor="start">330</text>
</svg>
</body></html>
